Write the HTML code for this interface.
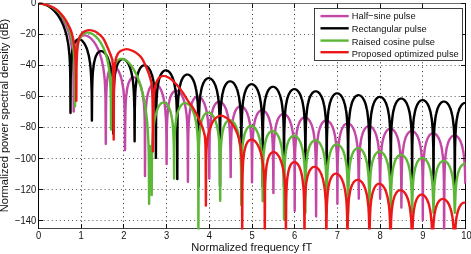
<!DOCTYPE html>
<html><head><meta charset="utf-8"><title>PSD</title>
<style>html,body{margin:0;padding:0;background:#fff}body{width:471px;height:254px;overflow:hidden;position:relative}</style></head>
<body>
<svg width="471" height="254" viewBox="0 0 471 254" style="position:absolute;left:0;top:0">
<defs><clipPath id="cp"><rect x="38.5" y="2.5" width="428.0" height="227.0"/></clipPath></defs>
<rect x="0" y="0" width="471" height="254" fill="#fff"/>
<g stroke="#1a1a1a" stroke-width="1" stroke-dasharray="1 3.4" stroke-dashoffset="2" fill="none"><line x1="81.5" y1="228.5" x2="81.5" y2="3.5"/><line x1="123.5" y1="228.5" x2="123.5" y2="3.5"/><line x1="166.5" y1="228.5" x2="166.5" y2="3.5"/><line x1="209.5" y1="228.5" x2="209.5" y2="3.5"/><line x1="252.5" y1="228.5" x2="252.5" y2="3.5"/><line x1="294.5" y1="228.5" x2="294.5" y2="3.5"/><line x1="337.5" y1="228.5" x2="337.5" y2="3.5"/><line x1="380.5" y1="228.5" x2="380.5" y2="3.5"/><line x1="422.5" y1="228.5" x2="422.5" y2="3.5"/></g>
<g stroke="#555" stroke-width="1" stroke-dasharray="1 3.07" stroke-dashoffset="-1" fill="none"><line x1="38.5" y1="220.5" x2="465.5" y2="220.5"/><line x1="38.5" y1="189.5" x2="465.5" y2="189.5"/><line x1="38.5" y1="158.5" x2="465.5" y2="158.5"/><line x1="38.5" y1="127.5" x2="465.5" y2="127.5"/><line x1="38.5" y1="96.5" x2="465.5" y2="96.5"/><line x1="38.5" y1="65.5" x2="465.5" y2="65.5"/><line x1="38.5" y1="34.5" x2="465.5" y2="34.5"/></g>
<g stroke-width="1" fill="none"><line x1="38.0" y1="3.5" x2="466.0" y2="3.5" stroke="#6a6a6a"/><line x1="38.0" y1="228.5" x2="466.0" y2="228.5" stroke="#444"/><line x1="38.5" y1="3.0" x2="38.5" y2="229.0" stroke="#000"/><line x1="465.5" y1="3.0" x2="465.5" y2="229.0" stroke="#000"/></g>
<g clip-path="url(#cp)"><g transform="scale(1,0.88)" fill="none" stroke-width="2.45" stroke-linejoin="round">
<polyline stroke="#c348a6" points="38.5,3.98 38.7,3.98 38.9,3.98 39.1,3.99 39.4,4.00 39.6,4.01 39.8,4.02 40.0,4.03 40.2,4.05 40.4,4.07 40.6,4.09 40.8,4.12 41.1,4.14 41.3,4.17 41.5,4.20 41.7,4.24 41.9,4.27 42.1,4.31 42.3,4.35 42.6,4.39 42.8,4.44 43.0,4.49 43.2,4.54 43.4,4.59 43.6,4.64 43.8,4.70 44.1,4.76 44.3,4.82 44.5,4.89 44.7,4.95 44.9,5.02 45.1,5.09 45.3,5.17 45.5,5.25 45.8,5.32 46.0,5.41 46.2,5.49 46.4,5.58 46.6,5.67 46.8,5.76 47.0,5.85 47.3,5.95 47.5,6.05 47.7,6.15 47.9,6.25 48.1,6.36 48.3,6.47 48.5,6.58 48.7,6.70 49.0,6.81 49.2,6.93 49.4,7.06 49.6,7.18 49.8,7.31 50.0,7.44 50.2,7.58 50.5,7.71 50.7,7.85 50.9,7.99 51.1,8.14 51.3,8.29 51.5,8.44 51.7,8.59 52.0,8.75 52.2,8.91 52.4,9.07 52.6,9.24 52.8,9.41 53.0,9.58 53.2,9.76 53.4,9.94 53.7,10.12 53.9,10.30 54.1,10.49 54.3,10.68 54.5,10.88 54.7,11.08 54.9,11.28 55.2,11.49 55.4,11.70 55.6,11.91 55.8,12.13 56.0,12.35 56.2,12.57 56.4,12.80 56.6,13.03 56.9,13.27 57.1,13.51 57.3,13.75 57.5,14.00 57.7,14.25 57.9,14.51 58.1,14.77 58.4,15.04 58.6,15.31 58.8,15.58 59.0,15.86 59.2,16.15 59.4,16.44 59.6,16.73 59.9,17.03 60.1,17.33 60.3,17.64 60.5,17.96 60.7,18.28 60.9,18.61 61.1,18.94 61.3,19.28 61.6,19.63 61.8,19.98 62.0,20.33 62.2,20.70 62.4,21.07 62.6,21.45 62.8,21.84 63.1,22.23 63.3,22.63 63.5,23.04 63.7,23.46 63.9,23.89 64.1,24.32 64.3,24.77 64.5,25.22 64.8,25.69 65.0,26.16 65.2,26.65 65.4,27.14 65.6,27.65 65.8,28.18 66.0,28.71 66.3,29.26 66.5,29.82 66.7,30.40 66.9,31.00 67.1,31.61 67.3,32.24 67.5,32.89 67.7,33.56 68.0,34.25 68.2,34.96 68.4,35.70 68.6,36.47 68.8,37.26 69.0,38.09 69.2,38.95 69.5,39.85 69.7,40.79 69.9,41.78 70.1,42.82 70.3,43.91 70.5,45.07 70.7,46.30 71.0,47.62 71.2,49.03 71.4,50.56 71.6,52.23 71.8,54.07 72.0,56.11 72.2,58.42 72.4,61.07 72.7,64.22 72.9,68.10 73.1,73.17 73.3,80.59 73.5,94.98 73.7,126.88 73.9,84.25 74.2,75.93 74.4,70.68 74.6,66.86 74.8,63.87 75.0,61.43 75.2,59.38 75.4,57.62 75.6,56.08 75.9,54.72 76.1,53.51 76.3,52.42 76.5,51.43 76.7,50.53 76.9,49.70 77.1,48.95 77.4,48.25 77.6,47.60 77.8,47.01 78.0,46.46 78.2,45.94 78.4,45.46 78.6,45.02 78.9,44.60 79.1,44.22 79.3,43.86 79.5,43.52 79.7,43.21 79.9,42.92 80.1,42.65 80.3,42.39 80.6,42.16 80.8,41.94 81.0,41.74 81.2,41.56 81.4,41.39 81.6,41.23 81.8,41.09 82.1,40.96 82.3,40.84 82.5,40.74 82.7,40.65 82.9,40.57 83.1,40.49 83.3,40.43 83.5,40.38 83.8,40.34 84.0,40.31 84.2,40.29 84.4,40.28 84.6,40.28 84.8,40.29 85.0,40.30 85.3,40.33 85.5,40.36 85.7,40.40 85.9,40.45 86.1,40.50 86.3,40.57 86.5,40.64 86.8,40.72 87.0,40.81 87.2,40.90 87.4,41.01 87.6,41.11 87.8,41.23 88.0,41.36 88.2,41.49 88.5,41.63 88.7,41.77 88.9,41.92 89.1,42.08 89.3,42.25 89.5,42.42 89.7,42.60 90.0,42.79 90.2,42.99 90.4,43.19 90.6,43.40 90.8,43.61 91.0,43.84 91.2,44.07 91.4,44.31 91.7,44.55 91.9,44.81 92.1,45.07 92.3,45.33 92.5,45.61 92.7,45.89 92.9,46.18 93.2,46.48 93.4,46.79 93.6,47.10 93.8,47.43 94.0,47.76 94.2,48.10 94.4,48.45 94.7,48.81 94.9,49.17 95.1,49.55 95.3,49.94 95.5,50.33 95.7,50.74 95.9,51.15 96.1,51.58 96.4,52.02 96.6,52.47 96.8,52.93 97.0,53.40 97.2,53.88 97.4,54.38 97.6,54.89 97.9,55.41 98.1,55.95 98.3,56.51 98.5,57.07 98.7,57.66 98.9,58.26 99.1,58.88 99.3,59.52 99.6,60.18 99.8,60.86 100.0,61.56 100.2,62.29 100.4,63.04 100.6,63.82 100.8,64.63 101.1,65.47 101.3,66.34 101.5,67.25 101.7,68.20 101.9,69.20 102.1,70.24 102.3,71.34 102.5,72.50 102.8,73.73 103.0,75.03 103.2,76.43 103.4,77.93 103.6,79.54 103.8,81.31 104.0,83.25 104.3,85.42 104.5,87.87 104.7,90.71 104.9,94.09 105.1,98.28 105.3,103.87 105.5,112.39 105.8,163.73 106.0,125.69 106.2,111.01 106.4,103.85 106.6,99.14 106.8,95.67 107.0,92.93 107.2,90.70 107.5,88.82 107.7,87.22 107.9,85.83 108.1,84.61 108.3,83.53 108.5,82.57 108.7,81.71 109.0,80.94 109.2,80.25 109.4,79.62 109.6,79.06 109.8,78.54 110.0,78.08 110.2,77.67 110.4,77.29 110.7,76.96 110.9,76.65 111.1,76.39 111.3,76.15 111.5,75.94 111.7,75.76 111.9,75.61 112.2,75.48 112.4,75.37 112.6,75.29 112.8,75.23 113.0,75.19 113.2,75.17 113.4,75.17 113.7,75.20 113.9,75.24 114.1,75.29 114.3,75.37 114.5,75.47 114.7,75.58 114.9,75.71 115.1,75.86 115.4,76.02 115.6,76.20 115.8,76.40 116.0,76.62 116.2,76.86 116.4,77.11 116.6,77.38 116.9,77.67 117.1,77.98 117.3,78.30 117.5,78.65 117.7,79.02 117.9,79.40 118.1,79.81 118.3,80.24 118.6,80.69 118.8,81.16 119.0,81.66 119.2,82.18 119.4,82.73 119.6,83.31 119.8,83.92 120.1,84.56 120.3,85.24 120.5,85.95 120.7,86.70 120.9,87.49 121.1,88.33 121.3,89.22 121.6,90.17 121.8,91.18 122.0,92.26 122.2,93.41 122.4,94.66 122.6,96.01 122.8,97.49 123.0,99.11 123.3,100.91 123.5,102.94 123.7,105.24 123.9,107.93 124.1,111.15 124.3,115.17 124.5,120.55 124.8,128.76 125.0,170.79 125.2,143.42 125.4,127.90 125.6,120.46 125.8,115.56 126.0,111.92 126.2,109.05 126.5,106.68 126.7,104.67 126.9,102.95 127.1,101.43 127.3,100.10 127.5,98.90 127.7,97.83 128.0,96.85 128.2,95.97 128.4,95.17 128.6,94.43 128.8,93.75 129.0,93.14 129.2,92.57 129.5,92.04 129.7,91.56 129.9,91.12 130.1,90.71 130.3,90.34 130.5,90.00 130.7,89.69 130.9,89.40 131.2,89.15 131.4,88.91 131.6,88.71 131.8,88.52 132.0,88.36 132.2,88.22 132.4,88.10 132.7,87.99 132.9,87.91 133.1,87.85 133.3,87.81 133.5,87.78 133.7,87.77 133.9,87.78 134.1,87.81 134.4,87.85 134.6,87.91 134.8,87.99 135.0,88.08 135.2,88.19 135.4,88.32 135.6,88.46 135.9,88.62 136.1,88.80 136.3,89.00 136.5,89.21 136.7,89.44 136.9,89.69 137.1,89.95 137.4,90.24 137.6,90.54 137.8,90.86 138.0,91.21 138.2,91.57 138.4,91.96 138.6,92.37 138.8,92.80 139.1,93.26 139.3,93.74 139.5,94.25 139.7,94.78 139.9,95.35 140.1,95.95 140.3,96.59 140.6,97.26 140.8,97.97 141.0,98.73 141.2,99.53 141.4,100.39 141.6,101.30 141.8,102.28 142.0,103.33 142.3,104.46 142.5,105.69 142.7,107.03 142.9,108.49 143.1,110.11 143.3,111.93 143.5,113.97 143.8,116.33 144.0,119.11 144.2,122.48 144.4,126.78 144.6,132.73 144.8,142.47 145.0,200.24 145.2,146.82 145.5,135.13 145.7,128.64 145.9,124.15 146.1,120.73 146.3,117.97 146.5,115.67 146.7,113.71 147.0,112.00 147.2,110.49 147.4,109.14 147.6,107.93 147.8,106.83 148.0,105.83 148.2,104.92 148.5,104.08 148.7,103.31 148.9,102.59 149.1,101.93 149.3,101.32 149.5,100.75 149.7,100.23 149.9,99.74 150.2,99.28 150.4,98.86 150.6,98.47 150.8,98.10 151.0,97.77 151.2,97.46 151.4,97.17 151.7,96.91 151.9,96.66 152.1,96.44 152.3,96.24 152.5,96.06 152.7,95.90 152.9,95.76 153.1,95.64 153.4,95.53 153.6,95.44 153.8,95.36 154.0,95.31 154.2,95.26 154.4,95.24 154.6,95.23 154.9,95.23 155.1,95.25 155.3,95.29 155.5,95.34 155.7,95.40 155.9,95.48 156.1,95.57 156.4,95.68 156.6,95.81 156.8,95.95 157.0,96.10 157.2,96.27 157.4,96.45 157.6,96.65 157.8,96.87 158.1,97.10 158.3,97.35 158.5,97.62 158.7,97.90 158.9,98.20 159.1,98.52 159.3,98.86 159.6,99.22 159.8,99.60 160.0,100.00 160.2,100.42 160.4,100.86 160.6,101.33 160.8,101.83 161.0,102.35 161.3,102.90 161.5,103.48 161.7,104.09 161.9,104.73 162.1,105.42 162.3,106.14 162.5,106.91 162.8,107.73 163.0,108.60 163.2,109.53 163.4,110.52 163.6,111.59 163.8,112.74 164.0,113.99 164.3,115.36 164.5,116.86 164.7,118.52 164.9,120.38 165.1,122.49 165.3,124.93 165.5,127.82 165.7,131.37 166.0,135.96 166.2,142.49 166.4,153.96 166.6,186.66 166.8,151.19 167.0,141.34 167.2,135.45 167.5,131.25 167.7,128.01 167.9,125.37 168.1,123.15 168.3,121.24 168.5,119.58 168.7,118.10 168.9,116.79 169.2,115.60 169.4,114.52 169.6,113.54 169.8,112.64 170.0,111.81 170.2,111.05 170.4,110.34 170.7,109.69 170.9,109.08 171.1,108.52 171.3,107.99 171.5,107.51 171.7,107.06 171.9,106.63 172.2,106.24 172.4,105.88 172.6,105.55 172.8,105.24 173.0,104.95 173.2,104.69 173.4,104.45 173.6,104.22 173.9,104.02 174.1,103.84 174.3,103.68 174.5,103.54 174.7,103.41 174.9,103.30 175.1,103.21 175.4,103.14 175.6,103.08 175.8,103.04 176.0,103.01 176.2,103.00 176.4,103.00 176.6,103.02 176.8,103.05 177.1,103.10 177.3,103.17 177.5,103.25 177.7,103.34 177.9,103.45 178.1,103.57 178.3,103.71 178.6,103.87 178.8,104.04 179.0,104.22 179.2,104.43 179.4,104.64 179.6,104.88 179.8,105.13 180.1,105.40 180.3,105.69 180.5,105.99 180.7,106.32 180.9,106.66 181.1,107.03 181.3,107.41 181.5,107.82 181.8,108.25 182.0,108.70 182.2,109.18 182.4,109.69 182.6,110.23 182.8,110.79 183.0,111.39 183.3,112.02 183.5,112.69 183.7,113.40 183.9,114.15 184.1,114.95 184.3,115.80 184.5,116.71 184.7,117.69 185.0,118.74 185.2,119.87 185.4,121.10 185.6,122.44 185.8,123.91 186.0,125.55 186.2,127.37 186.5,129.44 186.7,131.84 186.9,134.66 187.1,138.12 187.3,142.56 187.5,148.80 187.7,159.41 187.9,206.76 188.2,159.81 188.4,149.20 188.6,143.05 188.8,138.71 189.0,135.38 189.2,132.67 189.4,130.41 189.7,128.46 189.9,126.77 190.1,125.26 190.3,123.92 190.5,122.71 190.7,121.61 190.9,120.61 191.2,119.69 191.4,118.85 191.6,118.07 191.8,117.35 192.0,116.68 192.2,116.06 192.4,115.48 192.6,114.94 192.9,114.44 193.1,113.98 193.3,113.55 193.5,113.14 193.7,112.77 193.9,112.42 194.1,112.10 194.4,111.80 194.6,111.53 194.8,111.27 195.0,111.04 195.2,110.83 195.4,110.64 195.6,110.46 195.8,110.31 196.1,110.17 196.3,110.05 196.5,109.95 196.7,109.87 196.9,109.80 197.1,109.74 197.3,109.71 197.6,109.68 197.8,109.68 198.0,109.69 198.2,109.71 198.4,109.75 198.6,109.80 198.8,109.87 199.1,109.96 199.3,110.06 199.5,110.17 199.7,110.30 199.9,110.45 200.1,110.61 200.3,110.78 200.5,110.98 200.8,111.19 201.0,111.41 201.2,111.65 201.4,111.91 201.6,112.19 201.8,112.49 202.0,112.80 202.3,113.14 202.5,113.49 202.7,113.87 202.9,114.27 203.1,114.69 203.3,115.13 203.5,115.60 203.7,116.10 204.0,116.63 204.2,117.18 204.4,117.77 204.6,118.40 204.8,119.06 205.0,119.76 205.2,120.50 205.5,121.29 205.7,122.14 205.9,123.04 206.1,124.01 206.3,125.05 206.5,126.17 206.7,127.40 207.0,128.73 207.2,130.19 207.4,131.82 207.6,133.64 207.8,135.70 208.0,138.09 208.2,140.91 208.4,144.36 208.7,148.81 208.9,155.06 209.1,165.72 209.3,203.06 209.5,165.86 209.7,155.30 209.9,149.16 210.2,144.83 210.4,141.49 210.6,138.78 210.8,136.51 211.0,134.56 211.2,132.86 211.4,131.35 211.6,130.00 211.9,128.78 212.1,127.68 212.3,126.67 212.5,125.74 212.7,124.89 212.9,124.10 213.1,123.38 213.4,122.70 213.6,122.07 213.8,121.49 214.0,120.94 214.2,120.43 214.4,119.96 214.6,119.52 214.9,119.11 215.1,118.73 215.3,118.37 215.5,118.04 215.7,117.74 215.9,117.46 216.1,117.19 216.3,116.96 216.6,116.74 216.8,116.54 217.0,116.36 217.2,116.19 217.4,116.05 217.6,115.92 217.8,115.81 218.1,115.72 218.3,115.64 218.5,115.58 218.7,115.54 218.9,115.51 219.1,115.50 219.3,115.50 219.5,115.51 219.8,115.55 220.0,115.59 220.2,115.65 220.4,115.73 220.6,115.82 220.8,115.93 221.0,116.05 221.3,116.19 221.5,116.35 221.7,116.51 221.9,116.70 222.1,116.90 222.3,117.12 222.5,117.36 222.8,117.61 223.0,117.88 223.2,118.17 223.4,118.48 223.6,118.81 223.8,119.15 224.0,119.52 224.2,119.91 224.5,120.33 224.7,120.77 224.9,121.23 225.1,121.72 225.3,122.24 225.5,122.79 225.7,123.37 226.0,123.99 226.2,124.64 226.4,125.34 226.6,126.07 226.8,126.86 227.0,127.70 227.2,128.59 227.4,129.55 227.7,130.59 227.9,131.71 228.1,132.92 228.3,134.25 228.5,135.71 228.7,137.32 228.9,139.14 229.2,141.19 229.4,143.57 229.6,146.39 229.8,149.84 230.0,154.28 230.2,160.53 230.4,171.19 230.7,201.47 230.9,171.29 231.1,160.73 231.3,154.59 231.5,150.25 231.7,146.90 231.9,144.19 232.1,141.91 232.4,139.96 232.6,138.25 232.8,136.73 233.0,135.38 233.2,134.15 233.4,133.04 233.6,132.03 233.9,131.09 234.1,130.24 234.3,129.44 234.5,128.71 234.7,128.02 234.9,127.39 235.1,126.80 235.3,126.25 235.6,125.74 235.8,125.26 236.0,124.81 236.2,124.39 236.4,124.01 236.6,123.64 236.8,123.31 237.1,123.00 237.3,122.71 237.5,122.44 237.7,122.20 237.9,121.97 238.1,121.77 238.3,121.58 238.5,121.41 238.8,121.26 239.0,121.13 239.2,121.01 239.4,120.91 239.6,120.83 239.8,120.77 240.0,120.71 240.3,120.68 240.5,120.66 240.7,120.66 240.9,120.67 241.1,120.69 241.3,120.73 241.5,120.79 241.8,120.86 242.0,120.95 242.2,121.05 242.4,121.17 242.6,121.30 242.8,121.45 243.0,121.61 243.2,121.79 243.5,121.99 243.7,122.20 243.9,122.43 244.1,122.68 244.3,122.94 244.5,123.23 244.7,123.53 245.0,123.85 245.2,124.19 245.4,124.56 245.6,124.94 245.8,125.35 246.0,125.78 246.2,126.24 246.4,126.73 246.7,127.24 246.9,127.79 247.1,128.36 247.3,128.97 247.5,129.62 247.7,130.31 247.9,131.04 248.2,131.82 248.4,132.65 248.6,133.54 248.8,134.50 249.0,135.53 249.2,136.64 249.4,137.85 249.7,139.17 249.9,140.63 250.1,142.24 250.3,144.05 250.5,146.10 250.7,148.47 250.9,151.28 251.1,154.73 251.4,159.16 251.6,165.41 251.8,176.06 252.0,207.29 252.2,176.15 252.4,165.59 252.6,159.44 252.9,155.10 253.1,151.75 253.3,149.03 253.5,146.75 253.7,144.78 253.9,143.07 254.1,141.55 254.3,140.19 254.6,138.96 254.8,137.84 255.0,136.82 255.2,135.89 255.4,135.02 255.6,134.22 255.8,133.48 256.1,132.80 256.3,132.16 256.5,131.56 256.7,131.01 256.9,130.49 257.1,130.00 257.3,129.55 257.6,129.13 257.8,128.74 258.0,128.37 258.2,128.03 258.4,127.71 258.6,127.42 258.8,127.15 259.0,126.90 259.3,126.67 259.5,126.46 259.7,126.27 259.9,126.10 260.1,125.94 260.3,125.80 260.5,125.68 260.8,125.58 261.0,125.49 261.2,125.42 261.4,125.37 261.6,125.33 261.8,125.30 262.0,125.29 262.2,125.30 262.5,125.32 262.7,125.36 262.9,125.41 263.1,125.47 263.3,125.56 263.5,125.65 263.7,125.77 264.0,125.89 264.2,126.04 264.4,126.20 264.6,126.37 264.8,126.56 265.0,126.77 265.2,127.00 265.5,127.24 265.7,127.50 265.9,127.78 266.1,128.08 266.3,128.39 266.5,128.73 266.7,129.09 266.9,129.47 267.2,129.88 267.4,130.31 267.6,130.76 267.8,131.24 268.0,131.75 268.2,132.29 268.4,132.86 268.7,133.47 268.9,134.11 269.1,134.80 269.3,135.52 269.5,136.30 269.7,137.13 269.9,138.01 270.1,138.97 270.4,139.99 270.6,141.10 270.8,142.30 271.0,143.62 271.2,145.07 271.4,146.68 271.6,148.48 271.9,150.53 272.1,152.90 272.3,155.71 272.5,159.14 272.7,163.57 272.9,169.81 273.1,180.47 273.4,219.63 273.6,180.55 273.8,169.98 274.0,163.83 274.2,159.48 274.4,156.13 274.6,153.40 274.8,151.12 275.1,149.15 275.3,147.43 275.5,145.91 275.7,144.54 275.9,143.31 276.1,142.19 276.3,141.17 276.6,140.22 276.8,139.36 277.0,138.55 277.2,137.81 277.4,137.12 277.6,136.47 277.8,135.87 278.0,135.32 278.3,134.79 278.5,134.31 278.7,133.85 278.9,133.42 279.1,133.03 279.3,132.66 279.5,132.31 279.8,131.99 280.0,131.69 280.2,131.42 280.4,131.17 280.6,130.93 280.8,130.72 281.0,130.52 281.2,130.35 281.5,130.19 281.7,130.05 281.9,129.92 282.1,129.81 282.3,129.72 282.5,129.65 282.7,129.59 283.0,129.54 283.2,129.52 283.4,129.50 283.6,129.51 283.8,129.52 284.0,129.56 284.2,129.60 284.5,129.67 284.7,129.74 284.9,129.84 285.1,129.95 285.3,130.07 285.5,130.21 285.7,130.36 285.9,130.54 286.2,130.72 286.4,130.93 286.6,131.15 286.8,131.39 287.0,131.65 287.2,131.92 287.4,132.22 287.7,132.53 287.9,132.86 288.1,133.22 288.3,133.60 288.5,134.00 288.7,134.42 288.9,134.87 289.1,135.35 289.4,135.86 289.6,136.39 289.8,136.96 290.0,137.56 290.2,138.20 290.4,138.88 290.6,139.61 290.9,140.38 291.1,141.20 291.3,142.09 291.5,143.03 291.7,144.06 291.9,145.16 292.1,146.36 292.4,147.67 292.6,149.12 292.8,150.72 293.0,152.52 293.2,154.57 293.4,156.94 293.6,159.74 293.8,163.17 294.1,167.60 294.3,173.84 294.5,184.48 294.7,239.73 294.9,184.56 295.1,173.99 295.3,167.83 295.6,163.48 295.8,160.12 296.0,157.40 296.2,155.11 296.4,153.14 296.6,151.42 296.8,149.89 297.0,148.52 297.3,147.28 297.5,146.16 297.7,145.13 297.9,144.19 298.1,143.32 298.3,142.51 298.5,141.76 298.8,141.07 299.0,140.42 299.2,139.82 299.4,139.25 299.6,138.73 299.8,138.24 300.0,137.78 300.3,137.35 300.5,136.95 300.7,136.58 300.9,136.23 301.1,135.90 301.3,135.60 301.5,135.32 301.7,135.07 302.0,134.83 302.2,134.61 302.4,134.41 302.6,134.23 302.8,134.07 303.0,133.93 303.2,133.80 303.5,133.69 303.7,133.60 303.9,133.52 304.1,133.45 304.3,133.41 304.5,133.38 304.7,133.36 304.9,133.36 305.2,133.37 305.4,133.40 305.6,133.45 305.8,133.51 306.0,133.58 306.2,133.67 306.4,133.78 306.7,133.90 306.9,134.03 307.1,134.19 307.3,134.35 307.5,134.54 307.7,134.74 307.9,134.96 308.2,135.19 308.4,135.45 308.6,135.72 308.8,136.01 309.0,136.32 309.2,136.65 309.4,137.01 309.6,137.38 309.9,137.78 310.1,138.20 310.3,138.65 310.5,139.12 310.7,139.62 310.9,140.16 311.1,140.72 311.4,141.32 311.6,141.96 311.8,142.63 312.0,143.36 312.2,144.12 312.4,144.95 312.6,145.83 312.8,146.77 313.1,147.79 313.3,148.89 313.5,150.09 313.7,151.40 313.9,152.84 314.1,154.44 314.3,156.24 314.6,158.28 314.8,160.65 315.0,163.45 315.2,166.88 315.4,171.30 315.6,177.53 315.8,188.18 316.1,246.08 316.3,188.25 316.5,177.68 316.7,171.51 316.9,167.16 317.1,163.80 317.3,161.07 317.5,158.78 317.8,156.81 318.0,155.08 318.2,153.55 318.4,152.18 318.6,150.94 318.8,149.81 319.0,148.78 319.3,147.83 319.5,146.96 319.7,146.15 319.9,145.40 320.1,144.70 320.3,144.05 320.5,143.45 320.7,142.88 321.0,142.35 321.2,141.86 321.4,141.40 321.6,140.97 321.8,140.56 322.0,140.19 322.2,139.84 322.5,139.51 322.7,139.21 322.9,138.92 323.1,138.66 323.3,138.42 323.5,138.20 323.7,138.00 323.9,137.82 324.2,137.65 324.4,137.51 324.6,137.38 324.8,137.26 325.0,137.17 325.2,137.08 325.4,137.02 325.7,136.97 325.9,136.94 326.1,136.92 326.3,136.91 326.5,136.92 326.7,136.95 326.9,136.99 327.2,137.05 327.4,137.12 327.6,137.21 327.8,137.31 328.0,137.43 328.2,137.56 328.4,137.71 328.6,137.88 328.9,138.06 329.1,138.26 329.3,138.47 329.5,138.71 329.7,138.96 329.9,139.23 330.1,139.52 330.4,139.82 330.6,140.15 330.8,140.50 331.0,140.87 331.2,141.27 331.4,141.69 331.6,142.13 331.8,142.60 332.1,143.10 332.3,143.63 332.5,144.20 332.7,144.79 332.9,145.43 333.1,146.10 333.3,146.82 333.6,147.59 333.8,148.41 334.0,149.28 334.2,150.23 334.4,151.24 334.6,152.34 334.8,153.54 335.1,154.84 335.3,156.28 335.5,157.88 335.7,159.68 335.9,161.72 336.1,164.08 336.3,166.88 336.5,170.30 336.8,174.72 337.0,180.96 337.2,191.60 337.4,231.80 337.6,191.66 337.8,181.09 338.0,174.92 338.3,170.57 338.5,167.20 338.7,164.47 338.9,162.18 339.1,160.20 339.3,158.47 339.5,156.94 339.7,155.57 340.0,154.33 340.2,153.20 340.4,152.16 340.6,151.21 340.8,150.34 341.0,149.53 341.2,148.77 341.5,148.07 341.7,147.42 341.9,146.81 342.1,146.24 342.3,145.71 342.5,145.22 342.7,144.75 343.0,144.32 343.2,143.91 343.4,143.53 343.6,143.18 343.8,142.85 344.0,142.54 344.2,142.26 344.4,142.00 344.7,141.76 344.9,141.53 345.1,141.33 345.3,141.14 345.5,140.98 345.7,140.83 345.9,140.69 346.2,140.58 346.4,140.48 346.6,140.39 346.8,140.33 347.0,140.27 347.2,140.24 347.4,140.22 347.6,140.21 347.9,140.22 348.1,140.24 348.3,140.28 348.5,140.34 348.7,140.41 348.9,140.49 349.1,140.59 349.4,140.71 349.6,140.84 349.8,140.99 350.0,141.15 350.2,141.33 350.4,141.53 350.6,141.74 350.9,141.97 351.1,142.22 351.3,142.49 351.5,142.77 351.7,143.08 351.9,143.40 352.1,143.75 352.3,144.12 352.6,144.51 352.8,144.93 353.0,145.37 353.2,145.84 353.4,146.34 353.6,146.87 353.8,147.43 354.1,148.02 354.3,148.65 354.5,149.33 354.7,150.04 354.9,150.81 355.1,151.62 355.3,152.50 355.5,153.44 355.8,154.45 356.0,155.55 356.2,156.74 356.4,158.05 356.6,159.48 356.8,161.08 357.0,162.87 357.3,164.91 357.5,167.27 357.7,170.07 357.9,173.49 358.1,177.91 358.3,184.14 358.5,194.78 358.8,225.98 359.0,194.84 359.2,184.26 359.4,178.09 359.6,173.74 359.8,170.37 360.0,167.64 360.2,165.34 360.5,163.36 360.7,161.63 360.9,160.10 361.1,158.72 361.3,157.48 361.5,156.35 361.7,155.31 362.0,154.36 362.2,153.48 362.4,152.67 362.6,151.91 362.8,151.21 363.0,150.56 363.2,149.94 363.4,149.37 363.7,148.84 363.9,148.34 364.1,147.88 364.3,147.44 364.5,147.03 364.7,146.65 364.9,146.30 365.2,145.96 365.4,145.66 365.6,145.37 365.8,145.11 366.0,144.86 366.2,144.64 366.4,144.43 366.6,144.24 366.9,144.07 367.1,143.92 367.3,143.79 367.5,143.67 367.7,143.57 367.9,143.48 368.1,143.41 368.4,143.36 368.6,143.32 368.8,143.30 369.0,143.29 369.2,143.29 369.4,143.32 369.6,143.35 369.9,143.41 370.1,143.47 370.3,143.56 370.5,143.66 370.7,143.77 370.9,143.90 371.1,144.04 371.3,144.20 371.6,144.38 371.8,144.58 372.0,144.79 372.2,145.02 372.4,145.26 372.6,145.53 372.8,145.81 373.1,146.12 373.3,146.44 373.5,146.79 373.7,147.15 373.9,147.54 374.1,147.96 374.3,148.40 374.5,148.87 374.8,149.36 375.0,149.89 375.2,150.45 375.4,151.04 375.6,151.67 375.8,152.34 376.0,153.05 376.3,153.81 376.5,154.63 376.7,155.50 376.9,156.44 377.1,157.45 377.3,158.55 377.5,159.74 377.8,161.04 378.0,162.48 378.2,164.07 378.4,165.86 378.6,167.90 378.8,170.25 379.0,173.05 379.2,176.47 379.5,180.89 379.7,187.12 379.9,197.75 380.1,225.98 380.3,197.81 380.5,187.23 380.7,181.06 381.0,176.70 381.2,173.34 381.4,170.60 381.6,168.30 381.8,166.32 382.0,164.59 382.2,163.05 382.4,161.67 382.7,160.43 382.9,159.30 383.1,158.26 383.3,157.30 383.5,156.42 383.7,155.61 383.9,154.85 384.2,154.15 384.4,153.49 384.6,152.88 384.8,152.31 385.0,151.77 385.2,151.27 385.4,150.80 385.7,150.36 385.9,149.95 386.1,149.57 386.3,149.21 386.5,148.88 386.7,148.57 386.9,148.28 387.1,148.02 387.4,147.77 387.6,147.54 387.8,147.34 388.0,147.15 388.2,146.98 388.4,146.82 388.6,146.69 388.9,146.57 389.1,146.46 389.3,146.37 389.5,146.30 389.7,146.25 389.9,146.21 390.1,146.18 390.3,146.17 390.6,146.18 390.8,146.20 391.0,146.23 391.2,146.28 391.4,146.35 391.6,146.43 391.8,146.53 392.1,146.64 392.3,146.76 392.5,146.91 392.7,147.07 392.9,147.24 393.1,147.44 393.3,147.65 393.6,147.87 393.8,148.12 394.0,148.38 394.2,148.66 394.4,148.97 394.6,149.29 394.8,149.63 395.0,150.00 395.3,150.39 395.5,150.80 395.7,151.24 395.9,151.70 396.1,152.20 396.3,152.72 396.5,153.28 396.8,153.87 397.0,154.50 397.2,155.17 397.4,155.88 397.6,156.64 397.8,157.45 398.0,158.32 398.2,159.26 398.5,160.27 398.7,161.36 398.9,162.55 399.1,163.85 399.3,165.29 399.5,166.88 399.7,168.67 400.0,170.70 400.2,173.06 400.4,175.85 400.6,179.27 400.8,183.69 401.0,189.91 401.2,200.55 401.4,236.03 401.7,200.60 401.9,190.02 402.1,183.85 402.3,179.49 402.5,176.12 402.7,173.38 402.9,171.08 403.2,169.10 403.4,167.37 403.6,165.83 403.8,164.45 404.0,163.20 404.2,162.07 404.4,161.03 404.7,160.07 404.9,159.19 405.1,158.37 405.3,157.61 405.5,156.91 405.7,156.25 405.9,155.63 406.1,155.06 406.4,154.52 406.6,154.02 406.8,153.55 407.0,153.11 407.2,152.70 407.4,152.32 407.6,151.96 407.9,151.62 408.1,151.31 408.3,151.02 408.5,150.75 408.7,150.51 408.9,150.28 409.1,150.07 409.3,149.88 409.6,149.70 409.8,149.55 410.0,149.41 410.2,149.29 410.4,149.18 410.6,149.09 410.8,149.02 411.1,148.96 411.3,148.92 411.5,148.90 411.7,148.88 411.9,148.89 412.1,148.91 412.3,148.94 412.6,148.99 412.8,149.05 413.0,149.13 413.2,149.23 413.4,149.34 413.6,149.46 413.8,149.60 414.0,149.76 414.3,149.94 414.5,150.13 414.7,150.34 414.9,150.56 415.1,150.80 415.3,151.07 415.5,151.35 415.8,151.65 416.0,151.97 416.2,152.31 416.4,152.68 416.6,153.06 416.8,153.47 417.0,153.91 417.2,154.37 417.5,154.87 417.7,155.39 417.9,155.94 418.1,156.53 418.3,157.16 418.5,157.83 418.7,158.54 419.0,159.30 419.2,160.11 419.4,160.98 419.6,161.91 419.8,162.92 420.0,164.01 420.2,165.20 420.5,166.50 420.7,167.93 420.9,169.52 421.1,171.31 421.3,173.34 421.5,175.70 421.7,178.49 421.9,181.91 422.2,186.32 422.4,192.55 422.6,203.18 422.8,250.31 423.0,203.23 423.2,192.65 423.4,186.48 423.7,182.11 423.9,178.74 424.1,176.00 424.3,173.70 424.5,171.72 424.7,169.98 424.9,168.44 425.1,167.06 425.4,165.81 425.6,164.68 425.8,163.64 426.0,162.68 426.2,161.80 426.4,160.98 426.6,160.22 426.9,159.51 427.1,158.85 427.3,158.23 427.5,157.66 427.7,157.12 427.9,156.62 428.1,156.15 428.4,155.70 428.6,155.29 428.8,154.91 429.0,154.55 429.2,154.21 429.4,153.90 429.6,153.61 429.8,153.34 430.1,153.09 430.3,152.86 430.5,152.65 430.7,152.45 430.9,152.28 431.1,152.12 431.3,151.98 431.6,151.86 431.8,151.75 432.0,151.66 432.2,151.59 432.4,151.53 432.6,151.49 432.8,151.46 433.0,151.44 433.3,151.45 433.5,151.46 433.7,151.50 433.9,151.54 434.1,151.61 434.3,151.68 434.5,151.78 434.8,151.89 435.0,152.01 435.2,152.15 435.4,152.31 435.6,152.48 435.8,152.67 436.0,152.88 436.3,153.10 436.5,153.34 436.7,153.60 436.9,153.88 437.1,154.18 437.3,154.50 437.5,154.84 437.7,155.21 438.0,155.59 438.2,156.00 438.4,156.44 438.6,156.90 438.8,157.39 439.0,157.91 439.2,158.46 439.5,159.05 439.7,159.68 439.9,160.34 440.1,161.05 440.3,161.81 440.5,162.62 440.7,163.49 440.9,164.42 441.2,165.43 441.4,166.52 441.6,167.71 441.8,169.00 442.0,170.44 442.2,172.03 442.4,173.81 442.7,175.84 442.9,178.19 443.1,180.98 443.3,184.40 443.5,188.82 443.7,195.04 443.9,205.67 444.1,268.48 444.4,205.72 444.6,195.13 444.8,188.96 445.0,184.60 445.2,181.23 445.4,178.49 445.6,176.18 445.9,174.20 446.1,172.46 446.3,170.92 446.5,169.54 446.7,168.29 446.9,167.15 447.1,166.11 447.4,165.15 447.6,164.26 447.8,163.44 448.0,162.68 448.2,161.97 448.4,161.31 448.6,160.70 448.8,160.12 449.1,159.58 449.3,159.07 449.5,158.60 449.7,158.16 449.9,157.75 450.1,157.36 450.3,157.00 450.6,156.66 450.8,156.34 451.0,156.05 451.2,155.78 451.4,155.53 451.6,155.30 451.8,155.09 452.0,154.89 452.3,154.72 452.5,154.56 452.7,154.42 452.9,154.30 453.1,154.19 453.3,154.10 453.5,154.02 453.8,153.96 454.0,153.91 454.2,153.88 454.4,153.87 454.6,153.87 454.8,153.89 455.0,153.92 455.3,153.96 455.5,154.03 455.7,154.10 455.9,154.20 456.1,154.30 456.3,154.43 456.5,154.56 456.7,154.72 457.0,154.89 457.2,155.08 457.4,155.28 457.6,155.51 457.8,155.75 458.0,156.01 458.2,156.29 458.5,156.58 458.7,156.90 458.9,157.24 459.1,157.60 459.3,157.99 459.5,158.40 459.7,158.83 459.9,159.29 460.2,159.78 460.4,160.30 460.6,160.85 460.8,161.44 461.0,162.06 461.2,162.73 461.4,163.44 461.7,164.19 461.9,165.00 462.1,165.87 462.3,166.80 462.5,167.81 462.7,168.90 462.9,170.08 463.2,171.38 463.4,172.81 463.6,174.40 463.8,176.18 464.0,178.21 464.2,180.56 464.4,183.35 464.6,186.77 464.9,191.18 465.1,197.40 465.3,208.03 465.5,208.52"/>
<polyline stroke="#000000" points="38.5,3.98 38.7,3.98 38.9,3.98 39.1,3.99 39.4,4.00 39.6,4.01 39.8,4.03 40.0,4.05 40.2,4.07 40.4,4.09 40.6,4.12 40.8,4.15 41.1,4.18 41.3,4.22 41.5,4.26 41.7,4.30 41.9,4.34 42.1,4.39 42.3,4.44 42.6,4.50 42.8,4.55 43.0,4.61 43.2,4.67 43.4,4.74 43.6,4.81 43.8,4.88 44.1,4.95 44.3,5.03 44.5,5.11 44.7,5.19 44.9,5.28 45.1,5.37 45.3,5.46 45.5,5.56 45.8,5.66 46.0,5.76 46.2,5.86 46.4,5.97 46.6,6.08 46.8,6.20 47.0,6.32 47.3,6.44 47.5,6.56 47.7,6.69 47.9,6.82 48.1,6.95 48.3,7.09 48.5,7.23 48.7,7.38 49.0,7.53 49.2,7.68 49.4,7.83 49.6,7.99 49.8,8.15 50.0,8.32 50.2,8.49 50.5,8.66 50.7,8.84 50.9,9.02 51.1,9.20 51.3,9.39 51.5,9.58 51.7,9.78 52.0,9.98 52.2,10.18 52.4,10.39 52.6,10.60 52.8,10.82 53.0,11.04 53.2,11.26 53.4,11.49 53.7,11.72 53.9,11.96 54.1,12.20 54.3,12.45 54.5,12.70 54.7,12.96 54.9,13.22 55.2,13.49 55.4,13.76 55.6,14.03 55.8,14.32 56.0,14.60 56.2,14.89 56.4,15.19 56.6,15.49 56.9,15.80 57.1,16.12 57.3,16.44 57.5,16.77 57.7,17.10 57.9,17.44 58.1,17.78 58.4,18.14 58.6,18.49 58.8,18.86 59.0,19.23 59.2,19.61 59.4,20.00 59.6,20.40 59.9,20.80 60.1,21.22 60.3,21.64 60.5,22.07 60.7,22.51 60.9,22.96 61.1,23.41 61.3,23.88 61.6,24.36 61.8,24.85 62.0,25.35 62.2,25.87 62.4,26.39 62.6,26.93 62.8,27.48 63.1,28.05 63.3,28.63 63.5,29.23 63.7,29.84 63.9,30.47 64.1,31.12 64.3,31.79 64.5,32.48 64.8,33.19 65.0,33.92 65.2,34.68 65.4,35.47 65.6,36.29 65.8,37.13 66.0,38.01 66.3,38.93 66.5,39.89 66.7,40.90 66.9,41.95 67.1,43.06 67.3,44.24 67.5,45.48 67.7,46.81 68.0,48.23 68.2,49.75 68.4,51.41 68.6,53.23 68.8,55.24 69.0,57.49 69.2,60.06 69.5,63.07 69.7,66.70 69.9,71.32 70.1,77.76 70.3,88.60 70.5,128.47 70.7,89.06 71.0,78.68 71.2,72.70 71.4,68.54 71.6,65.36 71.8,62.82 72.0,60.71 72.2,58.92 72.4,57.37 72.7,56.02 72.9,54.82 73.1,53.76 73.3,52.81 73.5,51.95 73.7,51.17 73.9,50.46 74.2,49.82 74.4,49.24 74.6,48.70 74.8,48.22 75.0,47.77 75.2,47.37 75.4,47.00 75.6,46.66 75.9,46.36 76.1,46.08 76.3,45.83 76.5,45.61 76.7,45.41 76.9,45.23 77.1,45.08 77.4,44.94 77.6,44.83 77.8,44.74 78.0,44.66 78.2,44.60 78.4,44.56 78.6,44.54 78.9,44.53 79.1,44.54 79.3,44.57 79.5,44.61 79.7,44.66 79.9,44.73 80.1,44.81 80.3,44.91 80.6,45.03 80.8,45.16 81.0,45.30 81.2,45.45 81.4,45.62 81.6,45.81 81.8,46.01 82.1,46.22 82.3,46.45 82.5,46.69 82.7,46.95 82.9,47.22 83.1,47.51 83.3,47.81 83.5,48.13 83.8,48.47 84.0,48.82 84.2,49.19 84.4,49.57 84.6,49.98 84.8,50.40 85.0,50.85 85.3,51.31 85.5,51.80 85.7,52.30 85.9,52.83 86.1,53.39 86.3,53.97 86.5,54.58 86.8,55.22 87.0,55.89 87.2,56.60 87.4,57.34 87.6,58.12 87.8,58.95 88.0,59.82 88.2,60.74 88.5,61.72 88.7,62.77 88.9,63.89 89.1,65.09 89.3,66.39 89.5,67.79 89.7,69.33 90.0,71.03 90.2,72.93 90.4,75.07 90.6,77.52 90.8,80.42 91.0,83.95 91.2,88.46 91.4,94.79 91.7,105.53 91.9,137.11 92.1,105.78 92.3,95.30 92.5,89.23 92.7,84.97 92.9,81.70 93.2,79.06 93.4,76.85 93.6,74.97 93.8,73.33 94.0,71.89 94.2,70.60 94.4,69.45 94.7,68.41 94.9,67.46 95.1,66.60 95.3,65.81 95.5,65.09 95.7,64.42 95.9,63.81 96.1,63.24 96.4,62.72 96.6,62.23 96.8,61.78 97.0,61.37 97.2,60.99 97.4,60.64 97.6,60.32 97.9,60.02 98.1,59.75 98.3,59.50 98.5,59.27 98.7,59.07 98.9,58.89 99.1,58.72 99.3,58.58 99.6,58.45 99.8,58.35 100.0,58.26 100.2,58.19 100.4,58.13 100.6,58.09 100.8,58.07 101.1,58.06 101.3,58.07 101.5,58.09 101.7,58.13 101.9,58.18 102.1,58.25 102.3,58.33 102.5,58.43 102.8,58.54 103.0,58.67 103.2,58.81 103.4,58.97 103.6,59.14 103.8,59.33 104.0,59.53 104.3,59.75 104.5,59.98 104.7,60.23 104.9,60.50 105.1,60.78 105.3,61.08 105.5,61.40 105.8,61.73 106.0,62.09 106.2,62.46 106.4,62.86 106.6,63.27 106.8,63.71 107.0,64.17 107.2,64.65 107.5,65.16 107.7,65.69 107.9,66.26 108.1,66.85 108.3,67.47 108.5,68.13 108.7,68.83 109.0,69.57 109.2,70.34 109.4,71.17 109.6,72.05 109.8,72.99 110.0,73.99 110.2,75.07 110.4,76.23 110.7,77.48 110.9,78.85 111.1,80.35 111.3,82.01 111.5,83.86 111.7,85.96 111.9,88.38 112.2,91.23 112.4,94.72 112.6,99.20 112.8,105.48 113.0,116.18 113.2,152.10 113.4,116.36 113.7,105.84 113.9,99.73 114.1,95.43 114.3,92.13 114.5,89.45 114.7,87.21 114.9,85.29 115.1,83.61 115.4,82.14 115.6,80.82 115.8,79.63 116.0,78.55 116.2,77.57 116.4,76.67 116.6,75.85 116.9,75.09 117.1,74.39 117.3,73.74 117.5,73.14 117.7,72.59 117.9,72.07 118.1,71.59 118.3,71.14 118.6,70.73 118.8,70.35 119.0,69.99 119.2,69.66 119.4,69.36 119.6,69.08 119.8,68.83 120.1,68.59 120.3,68.38 120.5,68.18 120.7,68.01 120.9,67.86 121.1,67.72 121.3,67.60 121.6,67.50 121.8,67.41 122.0,67.35 122.2,67.29 122.4,67.26 122.6,67.24 122.8,67.23 123.0,67.24 123.3,67.27 123.5,67.31 123.7,67.36 123.9,67.43 124.1,67.52 124.3,67.62 124.5,67.73 124.8,67.86 125.0,68.01 125.2,68.17 125.4,68.35 125.6,68.54 125.8,68.75 126.0,68.97 126.2,69.21 126.5,69.47 126.7,69.74 126.9,70.04 127.1,70.35 127.3,70.68 127.5,71.02 127.7,71.39 128.0,71.78 128.2,72.20 128.4,72.63 128.6,73.09 128.8,73.58 129.0,74.09 129.2,74.63 129.5,75.20 129.7,75.80 129.9,76.43 130.1,77.11 130.3,77.82 130.5,78.58 130.7,79.38 130.9,80.24 131.2,81.15 131.4,82.14 131.6,83.19 131.8,84.33 132.0,85.56 132.2,86.90 132.4,88.38 132.7,90.02 132.9,91.85 133.1,93.93 133.3,96.32 133.5,99.16 133.7,102.62 133.9,107.08 134.1,113.35 134.4,124.03 134.6,160.74 134.8,124.16 135.0,113.62 135.2,107.50 135.4,103.17 135.6,99.85 135.9,97.15 136.1,94.89 136.3,92.95 136.5,91.26 136.7,89.76 136.9,88.42 137.1,87.21 137.4,86.12 137.6,85.12 137.8,84.20 138.0,83.36 138.2,82.58 138.4,81.86 138.6,81.20 138.8,80.58 139.1,80.00 139.3,79.47 139.5,78.97 139.7,78.51 139.9,78.08 140.1,77.68 140.3,77.30 140.6,76.96 140.8,76.64 141.0,76.34 141.2,76.06 141.4,75.81 141.6,75.58 141.8,75.37 142.0,75.18 142.3,75.01 142.5,74.86 142.7,74.72 142.9,74.60 143.1,74.50 143.3,74.41 143.5,74.35 143.8,74.29 144.0,74.26 144.2,74.24 144.4,74.23 144.6,74.24 144.8,74.26 145.0,74.30 145.2,74.36 145.5,74.43 145.7,74.51 145.9,74.61 146.1,74.72 146.3,74.85 146.5,75.00 146.7,75.16 147.0,75.34 147.2,75.53 147.4,75.74 147.6,75.96 147.8,76.21 148.0,76.46 148.2,76.74 148.5,77.04 148.7,77.35 148.9,77.69 149.1,78.04 149.3,78.42 149.5,78.82 149.7,79.24 149.9,79.68 150.2,80.15 150.4,80.65 150.6,81.17 150.8,81.73 151.0,82.32 151.2,82.94 151.4,83.60 151.7,84.30 151.9,85.04 152.1,85.83 152.3,86.67 152.5,87.58 152.7,88.54 152.9,89.58 153.1,90.71 153.4,91.93 153.6,93.26 153.8,94.72 154.0,96.35 154.2,98.16 154.4,100.23 154.6,102.61 154.9,105.43 155.1,108.89 155.3,113.33 155.5,119.58 155.7,130.25 155.9,179.43 156.1,130.36 156.4,119.81 156.6,113.67 156.8,109.33 157.0,106.00 157.2,103.29 157.4,101.01 157.6,99.06 157.8,97.36 158.1,95.85 158.3,94.49 158.5,93.28 158.7,92.17 158.9,91.16 159.1,90.23 159.3,89.37 159.6,88.58 159.8,87.85 160.0,87.18 160.2,86.54 160.4,85.96 160.6,85.41 160.8,84.90 161.0,84.43 161.3,83.98 161.5,83.57 161.7,83.19 161.9,82.83 162.1,82.50 162.3,82.19 162.5,81.90 162.8,81.64 163.0,81.40 163.2,81.18 163.4,80.97 163.6,80.79 163.8,80.63 164.0,80.48 164.3,80.35 164.5,80.24 164.7,80.14 164.9,80.06 165.1,80.00 165.3,79.95 165.5,79.92 165.7,79.90 166.0,79.90 166.2,79.92 166.4,79.94 166.6,79.99 166.8,80.05 167.0,80.12 167.2,80.21 167.5,80.31 167.7,80.43 167.9,80.57 168.1,80.72 168.3,80.89 168.5,81.07 168.7,81.27 168.9,81.48 169.2,81.71 169.4,81.96 169.6,82.23 169.8,82.52 170.0,82.82 170.2,83.15 170.4,83.49 170.7,83.86 170.9,84.25 171.1,84.66 171.3,85.09 171.5,85.55 171.7,86.04 171.9,86.56 172.2,87.10 172.4,87.68 172.6,88.29 172.8,88.94 173.0,89.63 173.2,90.37 173.4,91.15 173.6,91.98 173.9,92.87 174.1,93.83 174.3,94.86 174.5,95.98 174.7,97.19 174.9,98.51 175.1,99.96 175.4,101.58 175.6,103.39 175.8,105.44 176.0,107.82 176.2,110.63 176.4,114.07 176.6,118.51 176.8,124.76 177.1,135.41 177.3,203.59 177.5,135.51 177.7,124.94 177.9,118.79 178.1,114.45 178.3,111.11 178.6,108.39 178.8,106.11 179.0,104.15 179.2,102.43 179.4,100.91 179.6,99.55 179.8,98.33 180.1,97.21 180.3,96.19 180.5,95.25 180.7,94.39 180.9,93.59 181.1,92.85 181.3,92.17 181.5,91.53 181.8,90.93 182.0,90.38 182.2,89.86 182.4,89.38 182.6,88.93 182.8,88.51 183.0,88.11 183.3,87.75 183.5,87.41 183.7,87.09 183.9,86.80 184.1,86.53 184.3,86.28 184.5,86.05 184.7,85.84 185.0,85.65 185.2,85.48 185.4,85.32 185.6,85.18 185.8,85.06 186.0,84.96 186.2,84.87 186.5,84.80 186.7,84.75 186.9,84.71 187.1,84.68 187.3,84.67 187.5,84.68 187.7,84.70 187.9,84.74 188.2,84.79 188.4,84.86 188.6,84.94 188.8,85.04 189.0,85.15 189.2,85.28 189.4,85.42 189.7,85.58 189.9,85.75 190.1,85.94 190.3,86.15 190.5,86.38 190.7,86.62 190.9,86.88 191.2,87.16 191.4,87.46 191.6,87.77 191.8,88.11 192.0,88.47 192.2,88.85 192.4,89.26 192.6,89.68 192.9,90.14 193.1,90.62 193.3,91.13 193.5,91.67 193.7,92.24 193.9,92.84 194.1,93.49 194.4,94.17 194.6,94.90 194.8,95.67 195.0,96.50 195.2,97.38 195.4,98.34 195.6,99.36 195.8,100.47 196.1,101.67 196.3,102.99 196.5,104.44 196.7,106.04 196.9,107.85 197.1,109.89 197.3,112.26 197.6,115.07 197.8,118.51 198.0,122.94 198.2,129.17 198.4,139.82 198.6,212.05 198.8,139.91 199.1,129.34 199.3,123.18 199.5,118.83 199.7,115.48 199.9,112.76 200.1,110.47 200.3,108.50 200.5,106.78 200.8,105.26 201.0,103.89 201.2,102.66 201.4,101.53 201.6,100.51 201.8,99.57 202.0,98.70 202.3,97.89 202.5,97.15 202.7,96.46 202.9,95.81 203.1,95.21 203.3,94.65 203.5,94.13 203.7,93.64 204.0,93.18 204.2,92.75 204.4,92.35 204.6,91.98 204.8,91.64 205.0,91.31 205.2,91.02 205.5,90.74 205.7,90.48 205.9,90.25 206.1,90.03 206.3,89.84 206.5,89.66 206.7,89.50 207.0,89.36 207.2,89.23 207.4,89.12 207.6,89.03 207.8,88.95 208.0,88.89 208.2,88.84 208.4,88.81 208.7,88.80 208.9,88.80 209.1,88.82 209.3,88.85 209.5,88.89 209.7,88.95 209.9,89.03 210.2,89.12 210.4,89.23 210.6,89.35 210.8,89.49 211.0,89.64 211.2,89.81 211.4,90.00 211.6,90.20 211.9,90.42 212.1,90.66 212.3,90.91 212.5,91.19 212.7,91.48 212.9,91.79 213.1,92.12 213.4,92.48 213.6,92.85 213.8,93.25 214.0,93.67 214.2,94.12 214.4,94.60 214.6,95.10 214.9,95.64 215.1,96.20 215.3,96.80 215.5,97.44 215.7,98.12 215.9,98.84 216.1,99.61 216.3,100.43 216.6,101.31 216.8,102.26 217.0,103.28 217.2,104.38 217.4,105.58 217.6,106.89 217.8,108.33 218.1,109.94 218.3,111.73 218.5,113.78 218.7,116.14 218.9,118.94 219.1,122.37 219.3,126.80 219.5,133.03 219.8,143.68 220.0,212.05 220.2,143.75 220.4,133.18 220.6,127.02 220.8,122.66 221.0,119.30 221.3,116.58 221.5,114.28 221.7,112.31 221.9,110.59 222.1,109.06 222.3,107.69 222.5,106.45 222.8,105.32 223.0,104.29 223.2,103.34 223.4,102.47 223.6,101.66 223.8,100.91 224.0,100.21 224.2,99.57 224.5,98.96 224.7,98.39 224.9,97.87 225.1,97.37 225.3,96.91 225.5,96.48 225.7,96.08 226.0,95.70 226.2,95.35 226.4,95.02 226.6,94.72 226.8,94.44 227.0,94.18 227.2,93.94 227.4,93.72 227.7,93.52 227.9,93.34 228.1,93.17 228.3,93.02 228.5,92.89 228.7,92.78 228.9,92.68 229.2,92.60 229.4,92.54 229.6,92.49 229.8,92.45 230.0,92.43 230.2,92.43 230.4,92.44 230.7,92.47 230.9,92.51 231.1,92.57 231.3,92.64 231.5,92.73 231.7,92.83 231.9,92.95 232.1,93.08 232.4,93.23 232.6,93.39 232.8,93.58 233.0,93.77 233.2,93.99 233.4,94.22 233.6,94.47 233.9,94.74 234.1,95.03 234.3,95.34 234.5,95.67 234.7,96.02 234.9,96.39 235.1,96.78 235.3,97.20 235.6,97.65 235.8,98.12 236.0,98.62 236.2,99.15 236.4,99.71 236.6,100.31 236.8,100.94 237.1,101.61 237.3,102.33 237.5,103.10 237.7,103.92 237.9,104.79 238.1,105.73 238.3,106.75 238.5,107.85 238.8,109.04 239.0,110.35 239.2,111.79 239.4,113.39 239.6,115.18 239.8,117.22 240.0,119.58 240.3,122.38 240.5,125.81 240.7,130.23 240.9,136.46 241.1,147.10 241.3,212.05 241.5,147.16 241.8,136.59 242.0,130.42 242.2,126.07 242.4,122.70 242.6,119.97 242.8,117.67 243.0,115.70 243.2,113.97 243.5,112.44 243.7,111.06 243.9,109.82 244.1,108.69 244.3,107.66 244.5,106.71 244.7,105.83 245.0,105.02 245.2,104.26 245.4,103.56 245.6,102.91 245.8,102.30 246.0,101.73 246.2,101.20 246.4,100.70 246.7,100.24 246.9,99.80 247.1,99.39 247.3,99.01 247.5,98.66 247.7,98.33 247.9,98.02 248.2,97.74 248.4,97.47 248.6,97.23 248.8,97.01 249.0,96.80 249.2,96.62 249.4,96.45 249.7,96.30 249.9,96.16 250.1,96.05 250.3,95.95 250.5,95.86 250.7,95.79 250.9,95.74 251.1,95.70 251.4,95.68 251.6,95.67 251.8,95.68 252.0,95.70 252.2,95.74 252.4,95.80 252.6,95.86 252.9,95.95 253.1,96.05 253.3,96.16 253.5,96.29 253.7,96.44 253.9,96.60 254.1,96.78 254.3,96.97 254.6,97.19 254.8,97.42 255.0,97.66 255.2,97.93 255.4,98.21 255.6,98.52 255.8,98.84 256.1,99.19 256.3,99.56 256.5,99.95 256.7,100.37 256.9,100.81 257.1,101.27 257.3,101.77 257.6,102.30 257.8,102.86 258.0,103.45 258.2,104.08 258.4,104.75 258.6,105.47 258.8,106.23 259.0,107.04 259.3,107.92 259.5,108.86 259.7,109.87 259.9,110.96 260.1,112.16 260.3,113.46 260.5,114.90 260.8,116.49 261.0,118.28 261.2,120.32 261.4,122.68 261.6,125.47 261.8,128.89 262.0,133.31 262.2,139.54 262.5,150.18 262.7,212.05 262.9,150.23 263.1,139.66 263.3,133.49 263.5,129.13 263.7,125.76 264.0,123.03 264.2,120.73 264.4,118.75 264.6,117.02 264.8,115.48 265.0,114.10 265.2,112.86 265.5,111.72 265.7,110.69 265.9,109.73 266.1,108.85 266.3,108.04 266.5,107.28 266.7,106.58 266.9,105.92 267.2,105.31 267.4,104.74 267.6,104.20 267.8,103.70 268.0,103.23 268.2,102.80 268.4,102.39 268.7,102.00 268.9,101.65 269.1,101.31 269.3,101.00 269.5,100.72 269.7,100.45 269.9,100.20 270.1,99.98 270.4,99.77 270.6,99.58 270.8,99.41 271.0,99.26 271.2,99.12 271.4,99.00 271.6,98.90 271.9,98.81 272.1,98.74 272.3,98.68 272.5,98.64 272.7,98.62 272.9,98.61 273.1,98.61 273.4,98.63 273.6,98.67 273.8,98.72 274.0,98.78 274.2,98.86 274.4,98.96 274.6,99.07 274.8,99.20 275.1,99.34 275.3,99.50 275.5,99.68 275.7,99.87 275.9,100.08 276.1,100.31 276.3,100.55 276.6,100.81 276.8,101.10 277.0,101.40 277.2,101.72 277.4,102.06 277.6,102.43 277.8,102.82 278.0,103.23 278.3,103.67 278.5,104.14 278.7,104.63 278.9,105.15 279.1,105.71 279.3,106.30 279.5,106.93 279.8,107.60 280.0,108.31 280.2,109.07 280.4,109.88 280.6,110.75 280.8,111.69 281.0,112.70 281.2,113.79 281.5,114.98 281.7,116.28 281.9,117.71 282.1,119.31 282.3,121.09 282.5,123.13 282.7,125.48 283.0,128.27 283.2,131.70 283.4,136.11 283.6,142.34 283.8,152.97 284.0,212.05 284.2,153.02 284.5,142.44 284.7,136.27 284.9,131.91 285.1,128.54 285.3,125.80 285.5,123.50 285.7,121.52 285.9,119.79 286.2,118.25 286.4,116.87 286.6,115.62 286.8,114.48 287.0,113.44 287.2,112.49 287.4,111.60 287.7,110.79 287.9,110.03 288.1,109.32 288.3,108.66 288.5,108.05 288.7,107.47 288.9,106.94 289.1,106.43 289.4,105.96 289.6,105.52 289.8,105.11 290.0,104.73 290.2,104.37 290.4,104.03 290.6,103.72 290.9,103.43 291.1,103.16 291.3,102.91 291.5,102.68 291.7,102.47 291.9,102.28 292.1,102.11 292.4,101.95 292.6,101.81 292.8,101.69 293.0,101.58 293.2,101.50 293.4,101.42 293.6,101.36 293.8,101.32 294.1,101.29 294.3,101.28 294.5,101.28 294.7,101.30 294.9,101.33 295.1,101.38 295.3,101.45 295.6,101.52 295.8,101.62 296.0,101.73 296.2,101.85 296.4,101.99 296.6,102.15 296.8,102.32 297.0,102.51 297.3,102.72 297.5,102.95 297.7,103.19 297.9,103.45 298.1,103.73 298.3,104.03 298.5,104.35 298.8,104.69 299.0,105.05 299.2,105.44 299.4,105.85 299.6,106.29 299.8,106.75 300.0,107.24 300.3,107.76 300.5,108.32 300.7,108.91 300.9,109.53 301.1,110.20 301.3,110.91 301.5,111.67 301.7,112.48 302.0,113.34 302.2,114.28 302.4,115.29 302.6,116.38 302.8,117.56 303.0,118.86 303.2,120.29 303.5,121.88 303.7,123.67 303.9,125.70 304.1,128.05 304.3,130.84 304.5,134.26 304.7,138.68 304.9,144.90 305.2,155.53 305.4,212.05 305.6,155.58 305.8,145.00 306.0,138.82 306.2,134.46 306.4,131.09 306.7,128.35 306.9,126.05 307.1,124.06 307.3,122.33 307.5,120.78 307.7,119.40 307.9,118.15 308.2,117.01 308.4,115.97 308.6,115.01 308.8,114.13 309.0,113.31 309.2,112.55 309.4,111.84 309.6,111.18 309.9,110.56 310.1,109.99 310.3,109.45 310.5,108.94 310.7,108.47 310.9,108.03 311.1,107.61 311.4,107.23 311.6,106.86 311.8,106.53 312.0,106.21 312.2,105.92 312.4,105.65 312.6,105.40 312.8,105.17 313.1,104.96 313.3,104.76 313.5,104.59 313.7,104.43 313.9,104.29 314.1,104.16 314.3,104.06 314.6,103.96 314.8,103.89 315.0,103.83 315.2,103.78 315.4,103.75 315.6,103.74 315.8,103.74 316.1,103.76 316.3,103.79 316.5,103.83 316.7,103.90 316.9,103.97 317.1,104.06 317.3,104.17 317.5,104.30 317.8,104.43 318.0,104.59 318.2,104.76 318.4,104.95 318.6,105.15 318.8,105.38 319.0,105.62 319.3,105.88 319.5,106.15 319.7,106.45 319.9,106.77 320.1,107.11 320.3,107.47 320.5,107.86 320.7,108.26 321.0,108.70 321.2,109.16 321.4,109.65 321.6,110.17 321.8,110.72 322.0,111.31 322.2,111.93 322.5,112.60 322.7,113.30 322.9,114.06 323.1,114.87 323.3,115.73 323.5,116.67 323.7,117.67 323.9,118.76 324.2,119.95 324.4,121.24 324.6,122.67 324.8,124.26 325.0,126.05 325.2,128.08 325.4,130.43 325.7,133.21 325.9,136.63 326.1,141.04 326.3,147.26 326.5,157.89 326.7,212.05 326.9,157.94 327.2,147.35 327.4,141.18 327.6,136.81 327.8,133.44 328.0,130.70 328.2,128.39 328.4,126.41 328.6,124.67 328.9,123.13 329.1,121.74 329.3,120.49 329.5,119.35 329.7,118.31 329.9,117.35 330.1,116.46 330.4,115.64 330.6,114.88 330.8,114.17 331.0,113.50 331.2,112.89 331.4,112.31 331.6,111.77 331.8,111.26 332.1,110.79 332.3,110.34 332.5,109.93 332.7,109.54 332.9,109.17 333.1,108.83 333.3,108.52 333.6,108.23 333.8,107.95 334.0,107.70 334.2,107.47 334.4,107.25 334.6,107.06 334.8,106.88 335.1,106.72 335.3,106.58 335.5,106.45 335.7,106.34 335.9,106.25 336.1,106.17 336.3,106.11 336.5,106.06 336.8,106.03 337.0,106.02 337.2,106.02 337.4,106.03 337.6,106.06 337.8,106.10 338.0,106.16 338.3,106.24 338.5,106.33 338.7,106.44 338.9,106.56 339.1,106.69 339.3,106.85 339.5,107.02 339.7,107.20 340.0,107.41 340.2,107.63 340.4,107.87 340.6,108.12 340.8,108.40 341.0,108.70 341.2,109.01 341.5,109.35 341.7,109.71 341.9,110.09 342.1,110.50 342.3,110.93 342.5,111.39 342.7,111.88 343.0,112.40 343.2,112.95 343.4,113.53 343.6,114.16 343.8,114.82 344.0,115.53 344.2,116.28 344.4,117.09 344.7,117.95 344.9,118.88 345.1,119.89 345.3,120.97 345.5,122.16 345.7,123.45 345.9,124.88 346.2,126.47 346.4,128.25 346.6,130.28 346.8,132.63 347.0,135.41 347.2,138.83 347.4,143.24 347.6,149.46 347.9,160.09 348.1,212.05 348.3,160.13 348.5,149.54 348.7,143.37 348.9,139.00 349.1,135.63 349.4,132.88 349.6,130.57 349.8,128.59 350.0,126.85 350.2,125.30 350.4,123.92 350.6,122.67 350.9,121.52 351.1,120.48 351.3,119.52 351.5,118.63 351.7,117.81 351.9,117.04 352.1,116.33 352.3,115.67 352.6,115.05 352.8,114.47 353.0,113.92 353.2,113.41 353.4,112.94 353.6,112.49 353.8,112.08 354.1,111.69 354.3,111.32 354.5,110.98 354.7,110.66 354.9,110.37 355.1,110.09 355.3,109.84 355.5,109.61 355.8,109.39 356.0,109.19 356.2,109.02 356.4,108.85 356.6,108.71 356.8,108.58 357.0,108.47 357.3,108.38 357.5,108.30 357.7,108.23 357.9,108.19 358.1,108.15 358.3,108.14 358.5,108.13 358.8,108.15 359.0,108.17 359.2,108.22 359.4,108.28 359.6,108.35 359.8,108.44 360.0,108.54 360.2,108.66 360.5,108.80 360.7,108.95 360.9,109.12 361.1,109.30 361.3,109.51 361.5,109.73 361.7,109.96 362.0,110.22 362.2,110.49 362.4,110.79 362.6,111.10 362.8,111.44 363.0,111.80 363.2,112.18 363.4,112.59 363.7,113.02 363.9,113.47 364.1,113.96 364.3,114.48 364.5,115.03 364.7,115.61 364.9,116.23 365.2,116.89 365.4,117.60 365.6,118.35 365.8,119.16 366.0,120.02 366.2,120.95 366.4,121.95 366.6,123.04 366.9,124.22 367.1,125.51 367.3,126.94 367.5,128.53 367.7,130.31 367.9,132.33 368.1,134.68 368.4,137.47 368.6,140.88 368.8,145.29 369.0,151.51 369.2,162.13 369.4,212.05 369.6,162.17 369.9,151.59 370.1,145.41 370.3,141.04 370.5,137.66 370.7,134.92 370.9,132.61 371.1,130.62 371.3,128.88 371.6,127.34 371.8,125.95 372.0,124.69 372.2,123.55 372.4,122.50 372.6,121.54 372.8,120.65 373.1,119.83 373.3,119.06 373.5,118.35 373.7,117.68 373.9,117.06 374.1,116.48 374.3,115.94 374.5,115.43 374.8,114.95 375.0,114.50 375.2,114.09 375.4,113.69 375.6,113.33 375.8,112.99 376.0,112.67 376.3,112.37 376.5,112.09 376.7,111.84 376.9,111.60 377.1,111.39 377.3,111.19 377.5,111.01 377.8,110.85 378.0,110.70 378.2,110.57 378.4,110.46 378.6,110.36 378.8,110.28 379.0,110.22 379.2,110.17 379.5,110.14 379.7,110.12 379.9,110.11 380.1,110.13 380.3,110.15 380.5,110.19 380.7,110.25 381.0,110.32 381.2,110.41 381.4,110.51 381.6,110.63 381.8,110.77 382.0,110.92 382.2,111.08 382.4,111.27 382.7,111.47 382.9,111.69 383.1,111.92 383.3,112.18 383.5,112.45 383.7,112.75 383.9,113.06 384.2,113.40 384.4,113.75 384.6,114.13 384.8,114.54 385.0,114.97 385.2,115.42 385.4,115.91 385.7,116.42 385.9,116.97 386.1,117.55 386.3,118.17 386.5,118.83 386.7,119.54 386.9,120.29 387.1,121.09 387.4,121.96 387.6,122.88 387.8,123.88 388.0,124.97 388.2,126.15 388.4,127.44 388.6,128.87 388.9,130.45 389.1,132.23 389.3,134.26 389.5,136.61 389.7,139.39 389.9,142.80 390.1,147.21 390.3,153.43 390.6,164.05 390.8,212.05 391.0,164.09 391.2,153.50 391.4,147.32 391.6,142.95 391.8,139.57 392.1,136.83 392.3,134.52 392.5,132.53 392.7,130.79 392.9,129.24 393.1,127.85 393.3,126.60 393.6,125.45 393.8,124.41 394.0,123.44 394.2,122.55 394.4,121.72 394.6,120.96 394.8,120.24 395.0,119.58 395.3,118.95 395.5,118.37 395.7,117.83 395.9,117.32 396.1,116.84 396.3,116.39 396.5,115.97 396.8,115.58 397.0,115.21 397.2,114.87 397.4,114.55 397.6,114.25 397.8,113.97 398.0,113.72 398.2,113.48 398.5,113.26 398.7,113.06 398.9,112.88 399.1,112.72 399.3,112.57 399.5,112.44 399.7,112.33 400.0,112.23 400.2,112.15 400.4,112.08 400.6,112.03 400.8,112.00 401.0,111.98 401.2,111.97 401.4,111.98 401.7,112.01 401.9,112.05 402.1,112.11 402.3,112.18 402.5,112.26 402.7,112.37 402.9,112.48 403.2,112.62 403.4,112.77 403.6,112.93 403.8,113.12 404.0,113.31 404.2,113.53 404.4,113.77 404.7,114.02 404.9,114.29 405.1,114.59 405.3,114.90 405.5,115.23 405.7,115.59 405.9,115.97 406.1,116.37 406.4,116.80 406.6,117.26 406.8,117.74 407.0,118.25 407.2,118.80 407.4,119.38 407.6,120.00 407.9,120.66 408.1,121.36 408.3,122.11 408.5,122.92 408.7,123.78 408.9,124.70 409.1,125.70 409.3,126.79 409.6,127.97 409.8,129.26 410.0,130.68 410.2,132.27 410.4,134.05 410.6,136.07 410.8,138.42 411.1,141.20 411.3,144.61 411.5,149.02 411.7,155.23 411.9,165.86 412.1,212.05 412.3,165.89 412.6,155.30 412.8,149.12 413.0,144.75 413.2,141.37 413.4,138.63 413.6,136.32 413.8,134.33 414.0,132.58 414.3,131.03 414.5,129.65 414.7,128.39 414.9,127.24 415.1,126.19 415.3,125.23 415.5,124.34 415.8,123.51 416.0,122.74 416.2,122.03 416.4,121.36 416.6,120.74 416.8,120.15 417.0,119.61 417.2,119.10 417.5,118.62 417.7,118.17 417.9,117.75 418.1,117.35 418.3,116.98 418.5,116.64 418.7,116.32 419.0,116.02 419.2,115.74 419.4,115.49 419.6,115.25 419.8,115.03 420.0,114.83 420.2,114.65 420.5,114.48 420.7,114.33 420.9,114.20 421.1,114.09 421.3,113.99 421.5,113.91 421.7,113.84 421.9,113.79 422.2,113.75 422.4,113.73 422.6,113.73 422.8,113.74 423.0,113.76 423.2,113.80 423.4,113.86 423.7,113.93 423.9,114.01 424.1,114.11 424.3,114.23 424.5,114.36 424.7,114.51 424.9,114.67 425.1,114.86 425.4,115.06 425.6,115.27 425.8,115.51 426.0,115.76 426.2,116.03 426.4,116.32 426.6,116.63 426.9,116.97 427.1,117.32 427.3,117.70 427.5,118.10 427.7,118.53 427.9,118.98 428.1,119.47 428.4,119.98 428.6,120.53 428.8,121.11 429.0,121.72 429.2,122.38 429.4,123.08 429.6,123.83 429.8,124.64 430.1,125.50 430.3,126.42 430.5,127.42 430.7,128.50 430.9,129.68 431.1,130.97 431.3,132.40 431.6,133.98 431.8,135.76 432.0,137.78 432.2,140.13 432.4,142.91 432.6,146.32 432.8,150.72 433.0,156.94 433.3,167.56 433.5,212.05 433.7,167.60 433.9,157.00 434.1,150.82 434.3,146.45 434.5,143.07 434.8,140.32 435.0,138.01 435.2,136.02 435.4,134.28 435.6,132.73 435.8,131.34 436.0,130.08 436.3,128.93 436.5,127.88 436.7,126.92 436.9,126.03 437.1,125.20 437.3,124.43 437.5,123.71 437.7,123.04 438.0,122.42 438.2,121.84 438.4,121.29 438.6,120.78 438.8,120.30 439.0,119.85 439.2,119.42 439.5,119.03 439.7,118.66 439.9,118.32 440.1,117.99 440.3,117.69 440.5,117.42 440.7,117.16 440.9,116.92 441.2,116.70 441.4,116.50 441.6,116.31 441.8,116.15 442.0,116.00 442.2,115.87 442.4,115.75 442.7,115.65 442.9,115.57 443.1,115.50 443.3,115.45 443.5,115.41 443.7,115.39 443.9,115.39 444.1,115.39 444.4,115.42 444.6,115.46 444.8,115.51 445.0,115.58 445.2,115.66 445.4,115.76 445.6,115.88 445.9,116.01 446.1,116.16 446.3,116.32 446.5,116.50 446.7,116.70 446.9,116.92 447.1,117.15 447.4,117.40 447.6,117.67 447.8,117.96 448.0,118.27 448.2,118.61 448.4,118.96 448.6,119.34 448.8,119.74 449.1,120.17 449.3,120.62 449.5,121.10 449.7,121.62 449.9,122.16 450.1,122.74 450.3,123.36 450.6,124.01 450.8,124.71 451.0,125.46 451.2,126.26 451.4,127.12 451.6,128.05 451.8,129.05 452.0,130.13 452.3,131.31 452.5,132.60 452.7,134.02 452.9,135.60 453.1,137.38 453.3,139.40 453.5,141.74 453.8,144.52 454.0,147.94 454.2,152.34 454.4,158.55 454.6,169.18 454.8,212.05 455.0,169.21 455.3,158.62 455.5,152.43 455.7,148.06 455.9,144.68 456.1,141.93 456.3,139.62 456.5,137.63 456.7,135.88 457.0,134.33 457.2,132.94 457.4,131.68 457.6,130.54 457.8,129.49 458.0,128.52 458.2,127.63 458.5,126.80 458.7,126.03 458.9,125.31 459.1,124.64 459.3,124.02 459.5,123.43 459.7,122.88 459.9,122.37 460.2,121.89 460.4,121.44 460.6,121.02 460.8,120.62 461.0,120.25 461.2,119.90 461.4,119.58 461.7,119.28 461.9,119.00 462.1,118.74 462.3,118.50 462.5,118.28 462.7,118.08 462.9,117.90 463.2,117.73 463.4,117.58 463.6,117.45 463.8,117.33 464.0,117.23 464.2,117.15 464.4,117.08 464.6,117.03 464.9,116.99 465.1,116.97 465.3,116.96 465.5,116.97"/>
<polyline stroke="#5cb736" points="38.5,3.98 38.7,3.98 38.9,3.98 39.1,3.99 39.4,3.99 39.6,4.00 39.8,4.01 40.0,4.03 40.2,4.04 40.4,4.06 40.6,4.08 40.8,4.10 41.1,4.13 41.3,4.15 41.5,4.18 41.7,4.21 41.9,4.24 42.1,4.27 42.3,4.31 42.6,4.35 42.8,4.39 43.0,4.43 43.2,4.48 43.4,4.52 43.6,4.57 43.8,4.62 44.1,4.68 44.3,4.73 44.5,4.79 44.7,4.85 44.9,4.91 45.1,4.97 45.3,5.04 45.5,5.11 45.8,5.18 46.0,5.25 46.2,5.32 46.4,5.40 46.6,5.48 46.8,5.56 47.0,5.64 47.3,5.73 47.5,5.82 47.7,5.91 47.9,6.00 48.1,6.10 48.3,6.19 48.5,6.29 48.7,6.40 49.0,6.50 49.2,6.61 49.4,6.72 49.6,6.83 49.8,6.94 50.0,7.06 50.2,7.18 50.5,7.30 50.7,7.42 50.9,7.55 51.1,7.68 51.3,7.81 51.5,7.94 51.7,8.08 52.0,8.22 52.2,8.36 52.4,8.50 52.6,8.65 52.8,8.80 53.0,8.95 53.2,9.11 53.4,9.27 53.7,9.43 53.9,9.59 54.1,9.76 54.3,9.93 54.5,10.10 54.7,10.28 54.9,10.46 55.2,10.64 55.4,10.82 55.6,11.01 55.8,11.20 56.0,11.40 56.2,11.60 56.4,11.80 56.6,12.00 56.9,12.21 57.1,12.42 57.3,12.63 57.5,12.85 57.7,13.07 57.9,13.30 58.1,13.53 58.4,13.76 58.6,14.00 58.8,14.24 59.0,14.49 59.2,14.73 59.4,14.99 59.6,15.24 59.9,15.51 60.1,15.77 60.3,16.04 60.5,16.32 60.7,16.60 60.9,16.88 61.1,17.17 61.3,17.46 61.6,17.76 61.8,18.07 62.0,18.38 62.2,18.69 62.4,19.02 62.6,19.34 62.8,19.67 63.1,20.01 63.3,20.36 63.5,20.71 63.7,21.07 63.9,21.43 64.1,21.81 64.3,22.19 64.5,22.57 64.8,22.97 65.0,23.37 65.2,23.78 65.4,24.20 65.6,24.63 65.8,25.07 66.0,25.52 66.3,25.97 66.5,26.44 66.7,26.92 66.9,27.42 67.1,27.92 67.3,28.43 67.5,28.96 67.7,29.51 68.0,30.07 68.2,30.64 68.4,31.23 68.6,31.84 68.8,32.47 69.0,33.11 69.2,33.78 69.5,34.47 69.7,35.19 69.9,35.93 70.1,36.70 70.3,37.50 70.5,38.34 70.7,39.21 71.0,40.12 71.2,41.08 71.4,42.08 71.6,43.14 71.8,44.27 72.0,45.47 72.2,46.75 72.4,48.12 72.7,49.60 72.9,51.22 73.1,53.00 73.3,54.98 73.5,57.22 73.7,59.78 73.9,62.81 74.2,66.52 74.4,71.32 74.6,78.18 74.8,90.57 75.0,121.06 75.2,85.19 75.4,75.96 75.6,70.34 75.9,66.31 76.1,63.18 76.3,60.64 76.5,58.50 76.7,56.66 76.9,55.06 77.1,53.64 77.4,52.37 77.6,51.23 77.8,50.19 78.0,49.24 78.2,48.37 78.4,47.57 78.6,46.83 78.9,46.14 79.1,45.50 79.3,44.90 79.5,44.35 79.7,43.82 79.9,43.34 80.1,42.88 80.3,42.45 80.6,42.04 80.8,41.66 81.0,41.31 81.2,40.97 81.4,40.65 81.6,40.36 81.8,40.08 82.1,39.81 82.3,39.57 82.5,39.33 82.7,39.12 82.9,38.91 83.1,38.72 83.3,38.54 83.5,38.38 83.8,38.22 84.0,38.08 84.2,37.94 84.4,37.82 84.6,37.71 84.8,37.60 85.0,37.51 85.3,37.42 85.5,37.35 85.7,37.28 85.9,37.22 86.1,37.17 86.3,37.13 86.5,37.09 86.8,37.06 87.0,37.04 87.2,37.03 87.4,37.02 87.6,37.02 87.8,37.03 88.0,37.04 88.2,37.06 88.5,37.09 88.7,37.12 88.9,37.16 89.1,37.21 89.3,37.26 89.5,37.32 89.7,37.38 90.0,37.45 90.2,37.52 90.4,37.61 90.6,37.69 90.8,37.79 91.0,37.88 91.2,37.99 91.4,38.10 91.7,38.21 91.9,38.34 92.1,38.46 92.3,38.59 92.5,38.73 92.7,38.87 92.9,39.02 93.2,39.18 93.4,39.34 93.6,39.50 93.8,39.67 94.0,39.85 94.2,40.03 94.4,40.22 94.7,40.41 94.9,40.61 95.1,40.81 95.3,41.02 95.5,41.24 95.7,41.46 95.9,41.69 96.1,41.92 96.4,42.16 96.6,42.41 96.8,42.66 97.0,42.92 97.2,43.18 97.4,43.45 97.6,43.73 97.9,44.01 98.1,44.30 98.3,44.60 98.5,44.91 98.7,45.22 98.9,45.53 99.1,45.86 99.3,46.19 99.6,46.53 99.8,46.88 100.0,47.24 100.2,47.60 100.4,47.98 100.6,48.36 100.8,48.75 101.1,49.15 101.3,49.56 101.5,49.98 101.7,50.40 101.9,50.84 102.1,51.29 102.3,51.76 102.5,52.23 102.8,52.71 103.0,53.21 103.2,53.72 103.4,54.24 103.6,54.78 103.8,55.33 104.0,55.90 104.3,56.49 104.5,57.09 104.7,57.71 104.9,58.35 105.1,59.02 105.3,59.70 105.5,60.41 105.8,61.14 106.0,61.90 106.2,62.69 106.4,63.51 106.6,64.36 106.8,65.25 107.0,66.19 107.2,67.17 107.5,68.20 107.7,69.28 107.9,70.43 108.1,71.66 108.3,72.96 108.5,74.36 108.7,75.87 109.0,77.51 109.2,79.32 109.4,81.33 109.6,83.59 109.8,86.18 110.0,89.23 110.2,92.95 110.4,97.75 110.7,104.58 110.9,116.77 111.1,147.34 111.3,112.20 111.5,102.87 111.7,97.23 111.9,93.22 112.2,90.12 112.4,87.60 112.6,85.50 112.8,83.70 113.0,82.14 113.2,80.76 113.4,79.53 113.7,78.43 113.9,77.44 114.1,76.54 114.3,75.71 114.5,74.96 114.7,74.26 114.9,73.63 115.1,73.04 115.4,72.49 115.6,71.99 115.8,71.52 116.0,71.08 116.2,70.68 116.4,70.30 116.6,69.96 116.9,69.63 117.1,69.33 117.3,69.06 117.5,68.80 117.7,68.56 117.9,68.34 118.1,68.14 118.3,67.96 118.6,67.79 118.8,67.63 119.0,67.49 119.2,67.37 119.4,67.25 119.6,67.15 119.8,67.07 120.1,66.99 120.3,66.93 120.5,66.88 120.7,66.83 120.9,66.80 121.1,66.78 121.3,66.77 121.6,66.77 121.8,66.77 122.0,66.79 122.2,66.82 122.4,66.85 122.6,66.89 122.8,66.94 123.0,67.00 123.3,67.07 123.5,67.15 123.7,67.23 123.9,67.32 124.1,67.42 124.3,67.53 124.5,67.64 124.8,67.76 125.0,67.89 125.2,68.02 125.4,68.17 125.6,68.31 125.8,68.47 126.0,68.63 126.2,68.80 126.5,68.98 126.7,69.16 126.9,69.35 127.1,69.55 127.3,69.76 127.5,69.97 127.7,70.18 128.0,70.41 128.2,70.64 128.4,70.87 128.6,71.12 128.8,71.37 129.0,71.62 129.2,71.89 129.5,72.16 129.7,72.43 129.9,72.72 130.1,73.01 130.3,73.31 130.5,73.61 130.7,73.92 130.9,74.24 131.2,74.56 131.4,74.89 131.6,75.23 131.8,75.58 132.0,75.93 132.2,76.29 132.4,76.66 132.7,77.04 132.9,77.42 133.1,77.81 133.3,78.21 133.5,78.61 133.7,79.02 133.9,79.45 134.1,79.88 134.4,80.31 134.6,80.76 134.8,81.21 135.0,81.68 135.2,82.15 135.4,82.63 135.6,83.12 135.9,83.62 136.1,84.13 136.3,84.65 136.5,85.18 136.7,85.72 136.9,86.27 137.1,86.83 137.4,87.40 137.6,87.98 137.8,88.57 138.0,89.18 138.2,89.80 138.4,90.43 138.6,91.07 138.8,91.72 139.1,92.39 139.3,93.08 139.5,93.77 139.7,94.49 139.9,95.21 140.1,95.96 140.3,96.72 140.6,97.50 140.8,98.29 141.0,99.11 141.2,99.94 141.4,100.80 141.6,101.67 141.8,102.57 142.0,103.49 142.3,104.44 142.5,105.41 142.7,106.41 142.9,107.44 143.1,108.50 143.3,109.59 143.5,110.72 143.8,111.88 144.0,113.08 144.2,114.32 144.4,115.61 144.6,116.95 144.8,118.34 145.0,119.79 145.2,121.30 145.5,122.88 145.7,124.54 145.9,126.28 146.1,128.13 146.3,130.08 146.5,132.15 146.7,134.37 147.0,136.76 147.2,139.36 147.4,142.20 147.6,145.36 147.8,148.93 148.0,153.05 148.2,158.00 148.5,164.29 148.7,173.24 148.9,190.77 149.1,231.80 149.3,178.26 149.5,171.98 149.7,168.62 149.9,166.78 150.2,165.98 150.4,166.03 150.6,166.90 150.8,168.70 151.0,171.76 151.2,176.94 151.4,187.24 151.7,221.75 151.9,182.13 152.1,171.38 152.3,164.65 152.5,159.66 152.7,155.68 152.9,152.34 153.1,149.47 153.4,146.95 153.6,144.71 153.8,142.68 154.0,140.85 154.2,139.17 154.4,137.62 154.6,136.19 154.9,134.86 155.1,133.62 155.3,132.47 155.5,131.38 155.7,130.37 155.9,129.42 156.1,128.52 156.4,127.67 156.6,126.88 156.8,126.12 157.0,125.41 157.2,124.74 157.4,124.11 157.6,123.51 157.8,122.94 158.1,122.41 158.3,121.90 158.5,121.42 158.7,120.97 158.9,120.55 159.1,120.15 159.3,119.78 159.6,119.42 159.8,119.10 160.0,118.79 160.2,118.50 160.4,118.24 160.6,117.99 160.8,117.76 161.0,117.56 161.3,117.37 161.5,117.19 161.7,117.04 161.9,116.91 162.1,116.79 162.3,116.69 162.5,116.60 162.8,116.53 163.0,116.48 163.2,116.45 163.4,116.43 163.6,116.43 163.8,116.44 164.0,116.47 164.3,116.52 164.5,116.58 164.7,116.66 164.9,116.76 165.1,116.87 165.3,117.00 165.5,117.15 165.7,117.31 166.0,117.49 166.2,117.69 166.4,117.91 166.6,118.15 166.8,118.41 167.0,118.69 167.2,118.99 167.5,119.31 167.7,119.66 167.9,120.02 168.1,120.42 168.3,120.84 168.5,121.28 168.7,121.76 168.9,122.26 169.2,122.80 169.4,123.37 169.6,123.98 169.8,124.63 170.0,125.32 170.2,126.06 170.4,126.86 170.7,127.71 170.9,128.62 171.1,129.61 171.3,130.68 171.5,131.85 171.7,133.12 171.9,134.52 172.2,136.08 172.4,137.83 172.6,139.81 172.8,142.11 173.0,144.82 173.2,148.12 173.4,152.35 173.6,158.22 173.9,167.85 174.1,203.06 174.3,172.33 174.5,160.50 174.7,153.93 174.9,149.37 175.1,145.87 175.4,143.05 175.6,140.69 175.8,138.66 176.0,136.88 176.2,135.31 176.4,133.89 176.6,132.62 176.8,131.46 177.1,130.39 177.3,129.42 177.5,128.51 177.7,127.67 177.9,126.89 178.1,126.17 178.3,125.49 178.6,124.85 178.8,124.26 179.0,123.70 179.2,123.18 179.4,122.69 179.6,122.23 179.8,121.79 180.1,121.39 180.3,121.01 180.5,120.65 180.7,120.31 180.9,120.00 181.1,119.70 181.3,119.43 181.5,119.17 181.8,118.93 182.0,118.71 182.2,118.51 182.4,118.32 182.6,118.15 182.8,117.99 183.0,117.85 183.3,117.72 183.5,117.61 183.7,117.51 183.9,117.42 184.1,117.35 184.3,117.29 184.5,117.24 184.7,117.21 185.0,117.19 185.2,117.18 185.4,117.19 185.6,117.20 185.8,117.23 186.0,117.27 186.2,117.33 186.5,117.39 186.7,117.47 186.9,117.56 187.1,117.66 187.3,117.77 187.5,117.90 187.7,118.04 187.9,118.19 188.2,118.36 188.4,118.53 188.6,118.72 188.8,118.93 189.0,119.14 189.2,119.38 189.4,119.62 189.7,119.88 189.9,120.15 190.1,120.44 190.3,120.75 190.5,121.07 190.7,121.40 190.9,121.76 191.2,122.13 191.4,122.51 191.6,122.92 191.8,123.35 192.0,123.80 192.2,124.27 192.4,124.76 192.6,125.28 192.9,125.82 193.1,126.39 193.3,126.99 193.5,127.62 193.7,128.28 193.9,128.98 194.1,129.71 194.4,130.49 194.6,131.32 194.8,132.19 195.0,133.12 195.2,134.11 195.4,135.17 195.6,136.32 195.8,137.55 196.1,138.89 196.3,140.35 196.5,141.97 196.7,143.76 196.9,145.79 197.1,148.11 197.3,150.82 197.6,154.09 197.8,158.21 198.0,163.81 198.2,172.61 198.4,268.48 198.6,182.48 198.8,168.91 199.1,161.91 199.3,157.19 199.5,153.63 199.7,150.79 199.9,148.43 200.1,146.43 200.3,144.69 200.5,143.16 200.8,141.80 201.0,140.57 201.2,139.47 201.4,138.46 201.6,137.54 201.8,136.70 202.0,135.93 202.3,135.21 202.5,134.55 202.7,133.94 202.9,133.37 203.1,132.84 203.3,132.35 203.5,131.90 203.7,131.47 204.0,131.08 204.2,130.72 204.4,130.38 204.6,130.07 204.8,129.78 205.0,129.52 205.2,129.28 205.5,129.06 205.7,128.86 205.9,128.68 206.1,128.51 206.3,128.37 206.5,128.24 206.7,128.14 207.0,128.04 207.2,127.97 207.4,127.91 207.6,127.86 207.8,127.83 208.0,127.82 208.2,127.82 208.4,127.84 208.7,127.87 208.9,127.91 209.1,127.97 209.3,128.05 209.5,128.14 209.7,128.24 209.9,128.36 210.2,128.49 210.4,128.64 210.6,128.80 210.8,128.98 211.0,129.17 211.2,129.38 211.4,129.60 211.6,129.84 211.9,130.09 212.1,130.36 212.3,130.65 212.5,130.96 212.7,131.28 212.9,131.62 213.1,131.99 213.4,132.37 213.6,132.77 213.8,133.19 214.0,133.64 214.2,134.11 214.4,134.61 214.6,135.13 214.9,135.68 215.1,136.26 215.3,136.87 215.5,137.51 215.7,138.19 215.9,138.91 216.1,139.67 216.3,140.48 216.6,141.34 216.8,142.26 217.0,143.24 217.2,144.29 217.4,145.42 217.6,146.65 217.8,147.98 218.1,149.44 218.3,151.06 218.5,152.86 218.7,154.89 218.9,157.22 219.1,159.96 219.3,163.28 219.5,167.49 219.8,173.25 220.0,182.48 220.2,228.27 220.4,189.55 220.6,176.99 220.8,170.25 221.0,165.64 221.3,162.15 221.5,159.35 221.7,157.02 221.9,155.03 222.1,153.30 222.3,151.78 222.5,150.43 222.8,149.21 223.0,148.10 223.2,147.10 223.4,146.18 223.6,145.34 223.8,144.56 224.0,143.85 224.2,143.19 224.5,142.57 224.7,142.00 224.9,141.48 225.1,140.99 225.3,140.53 225.5,140.11 225.7,139.72 226.0,139.36 226.2,139.02 226.4,138.71 226.6,138.43 226.8,138.16 227.0,137.92 227.2,137.71 227.4,137.51 227.7,137.33 227.9,137.17 228.1,137.03 228.3,136.91 228.5,136.81 228.7,136.72 228.9,136.65 229.2,136.60 229.4,136.56 229.6,136.54 229.8,136.53 230.0,136.54 230.2,136.57 230.4,136.61 230.7,136.67 230.9,136.74 231.1,136.83 231.3,136.93 231.5,137.05 231.7,137.18 231.9,137.33 232.1,137.50 232.4,137.68 232.6,137.88 232.8,138.09 233.0,138.32 233.2,138.57 233.4,138.83 233.6,139.12 233.9,139.42 234.1,139.74 234.3,140.08 234.5,140.44 234.7,140.82 234.9,141.23 235.1,141.66 235.3,142.11 235.6,142.59 235.8,143.09 236.0,143.63 236.2,144.19 236.4,144.79 236.6,145.42 236.8,146.09 237.1,146.79 237.3,147.55 237.5,148.35 237.7,149.20 237.9,150.11 238.1,151.09 238.3,152.14 238.5,153.28 238.8,154.51 239.0,155.86 239.2,157.34 239.4,158.98 239.6,160.82 239.8,162.90 240.0,165.31 240.3,168.17 240.5,171.67 240.7,176.19 240.9,182.58 241.1,193.65 241.3,233.21 241.5,192.26 241.8,182.08 242.0,176.07 242.2,171.81 242.4,168.52 242.6,165.84 242.8,163.60 243.0,161.67 243.2,159.98 243.5,158.49 243.7,157.16 243.9,155.95 244.1,154.86 244.3,153.86 244.5,152.95 244.7,152.11 245.0,151.33 245.2,150.61 245.4,149.95 245.6,149.33 245.8,148.75 246.0,148.22 246.2,147.72 246.4,147.26 246.7,146.83 246.9,146.42 247.1,146.05 247.3,145.71 247.5,145.38 247.7,145.09 247.9,144.81 248.2,144.56 248.4,144.33 248.6,144.12 248.8,143.93 249.0,143.76 249.2,143.61 249.4,143.47 249.7,143.35 249.9,143.25 250.1,143.17 250.3,143.10 250.5,143.05 250.7,143.01 250.9,142.99 251.1,142.99 251.4,143.00 251.6,143.02 251.8,143.06 252.0,143.12 252.2,143.19 252.4,143.27 252.6,143.38 252.9,143.49 253.1,143.62 253.3,143.77 253.5,143.93 253.7,144.11 253.9,144.30 254.1,144.52 254.3,144.74 254.6,144.99 254.8,145.25 255.0,145.53 255.2,145.83 255.4,146.14 255.6,146.48 255.8,146.84 256.1,147.22 256.3,147.62 256.5,148.04 256.7,148.49 256.9,148.96 257.1,149.47 257.3,149.99 257.6,150.55 257.8,151.15 258.0,151.77 258.2,152.44 258.4,153.14 258.6,153.89 258.8,154.69 259.0,155.54 259.3,156.44 259.5,157.42 259.7,158.47 259.9,159.60 260.1,160.83 260.3,162.17 260.5,163.65 260.8,165.29 261.0,167.12 261.2,169.21 261.4,171.63 261.6,174.49 261.8,178.00 262.0,182.55 262.2,189.00 262.5,200.27 262.7,228.80 262.9,198.11 263.1,188.10 263.3,182.15 263.5,177.91 263.7,174.63 264.0,171.96 264.2,169.72 264.4,167.79 264.6,166.11 264.8,164.61 265.0,163.27 265.2,162.07 265.5,160.97 265.7,159.97 265.9,159.05 266.1,158.21 266.3,157.43 266.5,156.70 266.7,156.03 266.9,155.41 267.2,154.83 267.4,154.29 267.6,153.78 267.8,153.32 268.0,152.88 268.2,152.47 268.4,152.09 268.7,151.74 268.9,151.42 269.1,151.11 269.3,150.83 269.5,150.58 269.7,150.34 269.9,150.13 270.1,149.93 270.4,149.75 270.6,149.59 270.8,149.45 271.0,149.33 271.2,149.22 271.4,149.13 271.6,149.06 271.9,149.00 272.1,148.96 272.3,148.93 272.5,148.92 272.7,148.92 272.9,148.94 273.1,148.98 273.4,149.03 273.6,149.09 273.8,149.17 274.0,149.27 274.2,149.38 274.4,149.50 274.6,149.64 274.8,149.80 275.1,149.97 275.3,150.16 275.5,150.36 275.7,150.59 275.9,150.82 276.1,151.08 276.3,151.35 276.6,151.65 276.8,151.96 277.0,152.29 277.2,152.64 277.4,153.01 277.6,153.40 277.8,153.82 278.0,154.26 278.3,154.73 278.5,155.22 278.7,155.75 278.9,156.30 279.1,156.88 279.3,157.50 279.5,158.16 279.8,158.85 280.0,159.59 280.2,160.38 280.4,161.22 280.6,162.12 280.8,163.09 281.0,164.12 281.2,165.24 281.5,166.46 281.7,167.79 281.9,169.25 282.1,170.87 282.3,172.69 282.5,174.75 282.7,177.14 283.0,179.96 283.2,183.41 283.4,187.85 283.6,194.11 283.8,204.79 284.0,249.08 284.2,204.83 284.5,194.29 284.7,188.16 284.9,183.82 285.1,180.48 285.3,177.78 285.5,175.50 285.7,173.55 285.9,171.84 286.2,170.33 286.4,168.98 286.6,167.76 286.8,166.65 287.0,165.64 287.2,164.71 287.4,163.85 287.7,163.06 287.9,162.33 288.1,161.65 288.3,161.02 288.5,160.43 288.7,159.89 288.9,159.37 289.1,158.90 289.4,158.46 289.6,158.04 289.8,157.66 290.0,157.30 290.2,156.97 290.4,156.66 290.6,156.37 290.9,156.11 291.1,155.87 291.3,155.65 291.5,155.44 291.7,155.26 291.9,155.09 292.1,154.95 292.4,154.82 292.6,154.71 292.8,154.61 293.0,154.53 293.2,154.47 293.4,154.42 293.6,154.39 293.8,154.37 294.1,154.37 294.3,154.39 294.5,154.41 294.7,154.46 294.9,154.52 295.1,154.59 295.3,154.68 295.6,154.79 295.8,154.91 296.0,155.04 296.2,155.19 296.4,155.36 296.6,155.54 296.8,155.74 297.0,155.96 297.3,156.19 297.5,156.44 297.7,156.71 297.9,157.00 298.1,157.30 298.3,157.63 298.5,157.98 298.8,158.34 299.0,158.73 299.2,159.14 299.4,159.58 299.6,160.04 299.8,160.53 300.0,161.05 300.3,161.60 300.5,162.18 300.7,162.79 300.9,163.44 301.1,164.13 301.3,164.87 301.5,165.65 301.7,166.49 302.0,167.38 302.2,168.34 302.4,169.37 302.6,170.49 302.8,171.70 303.0,173.02 303.2,174.48 303.5,176.10 303.7,177.91 303.9,179.96 304.1,182.34 304.3,185.15 304.5,188.59 304.7,193.03 304.9,199.27 305.2,209.90 305.4,242.03 305.6,210.10 305.8,199.52 306.0,193.36 306.2,189.02 306.4,185.67 306.7,182.95 306.9,180.67 307.1,178.71 307.3,177.00 307.5,175.48 307.7,174.13 307.9,172.90 308.2,171.79 308.4,170.77 308.6,169.84 308.8,168.98 309.0,168.18 309.2,167.45 309.4,166.76 309.6,166.13 309.9,165.53 310.1,164.98 310.3,164.47 310.5,163.99 310.7,163.54 310.9,163.12 311.1,162.73 311.4,162.37 311.6,162.03 311.8,161.72 312.0,161.43 312.2,161.16 312.4,160.91 312.6,160.69 312.8,160.48 313.1,160.29 313.3,160.13 313.5,159.97 313.7,159.84 313.9,159.72 314.1,159.62 314.3,159.54 314.6,159.47 314.8,159.42 315.0,159.38 315.2,159.36 315.4,159.36 315.6,159.37 315.8,159.39 316.1,159.43 316.3,159.49 316.5,159.56 316.7,159.65 316.9,159.75 317.1,159.86 317.3,159.99 317.5,160.14 317.8,160.30 318.0,160.48 318.2,160.68 318.4,160.89 318.6,161.12 318.8,161.37 319.0,161.63 319.3,161.91 319.5,162.22 319.7,162.54 319.9,162.88 320.1,163.24 320.3,163.63 320.5,164.04 320.7,164.47 321.0,164.93 321.2,165.41 321.4,165.92 321.6,166.47 321.8,167.04 322.0,167.65 322.2,168.30 322.5,168.99 322.7,169.72 322.9,170.50 323.1,171.33 323.3,172.22 323.5,173.18 323.7,174.21 323.9,175.32 324.2,176.53 324.4,177.85 324.6,179.30 324.8,180.91 325.0,182.72 325.2,184.77 325.4,187.15 325.7,189.96 325.9,193.40 326.1,197.83 326.3,204.08 326.5,214.73 326.7,242.03 326.9,214.82 327.2,204.26 327.4,198.11 327.6,193.77 327.8,190.42 328.0,187.70 328.2,185.41 328.4,183.45 328.6,181.74 328.9,180.22 329.1,178.86 329.3,177.63 329.5,176.51 329.7,175.49 329.9,174.55 330.1,173.69 330.4,172.89 330.6,172.15 330.8,171.46 331.0,170.82 331.2,170.23 331.4,169.67 331.6,169.15 331.8,168.67 332.1,168.22 332.3,167.80 332.5,167.41 332.7,167.04 332.9,166.70 333.1,166.38 333.3,166.09 333.6,165.82 333.8,165.57 334.0,165.34 334.2,165.13 334.4,164.94 334.6,164.76 334.8,164.61 335.1,164.47 335.3,164.35 335.5,164.25 335.7,164.16 335.9,164.09 336.1,164.03 336.3,164.00 336.5,163.97 336.8,163.96 337.0,163.97 337.2,163.99 337.4,164.03 337.6,164.08 337.8,164.15 338.0,164.23 338.3,164.33 338.5,164.44 338.7,164.57 338.9,164.71 339.1,164.87 339.3,165.04 339.5,165.24 339.7,165.45 340.0,165.67 340.2,165.91 340.4,166.18 340.6,166.45 340.8,166.75 341.0,167.07 341.2,167.41 341.5,167.77 341.7,168.15 341.9,168.56 342.1,168.99 342.3,169.44 342.5,169.92 342.7,170.43 343.0,170.97 343.2,171.54 343.4,172.15 343.6,172.79 343.8,173.48 344.0,174.21 344.2,174.98 344.4,175.81 344.7,176.70 344.9,177.65 345.1,178.68 345.3,179.79 345.5,180.99 345.7,182.31 345.9,183.76 346.2,185.37 346.4,187.17 346.6,189.22 346.8,191.59 347.0,194.40 347.2,197.84 347.4,202.27 347.6,208.51 347.9,219.16 348.1,242.03 348.3,219.24 348.5,208.68 348.7,202.52 348.9,198.18 349.1,194.82 349.4,192.10 349.6,189.82 349.8,187.85 350.0,186.13 350.2,184.61 350.4,183.25 350.6,182.01 350.9,180.89 351.1,179.87 351.3,178.93 351.5,178.06 351.7,177.26 351.9,176.52 352.1,175.83 352.3,175.19 352.6,174.59 352.8,174.03 353.0,173.51 353.2,173.02 353.4,172.56 353.6,172.14 353.8,171.74 354.1,171.38 354.3,171.03 354.5,170.71 354.7,170.42 354.9,170.14 355.1,169.89 355.3,169.66 355.5,169.44 355.8,169.25 356.0,169.07 356.2,168.91 356.4,168.77 356.6,168.65 356.8,168.54 357.0,168.45 357.3,168.38 357.5,168.32 357.7,168.28 357.9,168.25 358.1,168.24 358.3,168.24 358.5,168.26 358.8,168.30 359.0,168.34 359.2,168.41 359.4,168.49 359.6,168.58 359.8,168.69 360.0,168.82 360.2,168.96 360.5,169.11 360.7,169.29 360.9,169.48 361.1,169.68 361.3,169.90 361.5,170.14 361.7,170.40 362.0,170.68 362.2,170.97 362.4,171.29 362.6,171.63 362.8,171.98 363.0,172.36 363.2,172.76 363.4,173.19 363.7,173.64 363.9,174.12 364.1,174.63 364.3,175.16 364.5,175.73 364.7,176.34 364.9,176.98 365.2,177.66 365.4,178.38 365.6,179.16 365.8,179.98 366.0,180.87 366.2,181.82 366.4,182.84 366.6,183.95 366.9,185.15 367.1,186.46 367.3,187.91 367.5,189.52 367.7,191.32 367.9,193.36 368.1,195.73 368.4,198.54 368.6,201.97 368.8,206.40 369.0,212.64 369.2,223.29 369.4,242.03 369.6,223.37 369.9,212.80 370.1,206.64 370.3,202.29 370.5,198.94 370.7,196.21 370.9,193.92 371.1,191.95 371.3,190.23 371.6,188.71 371.8,187.34 372.0,186.11 372.2,184.98 372.4,183.96 372.6,183.01 372.8,182.14 373.1,181.34 373.3,180.59 373.5,179.90 373.7,179.25 373.9,178.65 374.1,178.09 374.3,177.57 374.5,177.08 374.8,176.62 375.0,176.19 375.2,175.79 375.4,175.42 375.6,175.08 375.8,174.75 376.0,174.45 376.3,174.18 376.5,173.92 376.7,173.69 376.9,173.47 377.1,173.27 377.3,173.09 377.5,172.93 377.8,172.79 378.0,172.67 378.2,172.56 378.4,172.46 378.6,172.39 378.8,172.33 379.0,172.28 379.2,172.25 379.5,172.24 379.7,172.24 379.9,172.25 380.1,172.28 380.3,172.33 380.5,172.39 380.7,172.47 381.0,172.56 381.2,172.67 381.4,172.79 381.6,172.93 381.8,173.08 382.0,173.25 382.2,173.44 382.4,173.64 382.7,173.86 382.9,174.10 383.1,174.35 383.3,174.63 383.5,174.92 383.7,175.23 383.9,175.57 384.2,175.92 384.4,176.30 384.6,176.70 384.8,177.12 385.0,177.57 385.2,178.05 385.4,178.55 385.7,179.08 385.9,179.65 386.1,180.25 386.3,180.89 386.5,181.57 386.7,182.29 386.9,183.06 387.1,183.89 387.4,184.77 387.6,185.72 387.8,186.74 388.0,187.84 388.2,189.04 388.4,190.35 388.6,191.80 388.9,193.40 389.1,195.20 389.3,197.24 389.5,199.61 389.7,202.41 389.9,205.84 390.1,210.27 390.3,216.50 390.6,227.15 390.8,242.03 391.0,227.22 391.2,216.65 391.4,210.49 391.6,206.14 391.8,202.78 392.1,200.06 392.3,197.77 392.5,195.80 392.7,194.07 392.9,192.54 393.1,191.17 393.3,189.94 393.6,188.81 393.8,187.78 394.0,186.84 394.2,185.97 394.4,185.16 394.6,184.41 394.8,183.71 395.0,183.07 395.3,182.46 395.5,181.90 395.7,181.37 395.9,180.88 396.1,180.42 396.3,179.99 396.5,179.59 396.8,179.22 397.0,178.87 397.2,178.54 397.4,178.24 397.6,177.96 397.8,177.70 398.0,177.47 398.2,177.25 398.5,177.05 398.7,176.87 398.9,176.70 399.1,176.56 399.3,176.43 399.5,176.32 399.7,176.22 400.0,176.15 400.2,176.08 400.4,176.03 400.6,176.00 400.8,175.99 401.0,175.98 401.2,176.00 401.4,176.03 401.7,176.07 401.9,176.13 402.1,176.20 402.3,176.29 402.5,176.40 402.7,176.52 402.9,176.65 403.2,176.81 403.4,176.97 403.6,177.16 403.8,177.36 404.0,177.58 404.2,177.81 404.4,178.06 404.7,178.34 404.9,178.63 405.1,178.94 405.3,179.27 405.5,179.62 405.7,179.99 405.9,180.39 406.1,180.81 406.4,181.26 406.6,181.73 406.8,182.24 407.0,182.77 407.2,183.33 407.4,183.93 407.6,184.57 407.9,185.24 408.1,185.97 408.3,186.73 408.5,187.55 408.7,188.43 408.9,189.38 409.1,190.40 409.3,191.50 409.6,192.70 409.8,194.01 410.0,195.45 410.2,197.05 410.4,198.85 410.6,200.89 410.8,203.25 411.1,206.05 411.3,209.48 411.5,213.91 411.7,220.14 411.9,230.78 412.1,242.03 412.3,230.85 412.6,220.28 412.8,214.12 413.0,209.76 413.2,206.40 413.4,203.67 413.6,201.38 413.8,199.41 414.0,197.68 414.3,196.15 414.5,194.78 414.7,193.54 414.9,192.41 415.1,191.38 415.3,190.44 415.5,189.56 415.8,188.75 416.0,188.00 416.2,187.30 416.4,186.65 416.6,186.05 416.8,185.48 417.0,184.95 417.2,184.46 417.5,184.00 417.7,183.57 417.9,183.16 418.1,182.79 418.3,182.44 418.5,182.11 418.7,181.81 419.0,181.52 419.2,181.26 419.4,181.02 419.6,180.80 419.8,180.60 420.0,180.42 420.2,180.25 420.5,180.11 420.7,179.98 420.9,179.86 421.1,179.77 421.3,179.68 421.5,179.62 421.7,179.57 421.9,179.54 422.2,179.52 422.4,179.51 422.6,179.53 422.8,179.55 423.0,179.59 423.2,179.65 423.4,179.72 423.7,179.81 423.9,179.91 424.1,180.03 424.3,180.16 424.5,180.31 424.7,180.48 424.9,180.66 425.1,180.86 425.4,181.08 425.6,181.31 425.8,181.56 426.0,181.83 426.2,182.12 426.4,182.43 426.6,182.76 426.9,183.11 427.1,183.48 427.3,183.87 427.5,184.29 427.7,184.74 427.9,185.21 428.1,185.71 428.4,186.24 428.6,186.80 428.8,187.40 429.0,188.03 429.2,188.71 429.4,189.43 429.6,190.19 429.8,191.01 430.1,191.89 430.3,192.83 430.5,193.85 430.7,194.95 430.9,196.15 431.1,197.45 431.3,198.89 431.6,200.49 431.8,202.29 432.0,204.33 432.2,206.69 432.4,209.49 432.6,212.92 432.8,217.34 433.0,223.57 433.3,234.21 433.5,242.03 433.7,234.28 433.9,223.70 434.1,217.54 434.3,213.18 434.5,209.82 434.8,207.09 435.0,204.79 435.2,202.82 435.4,201.09 435.6,199.56 435.8,198.19 436.0,196.94 436.3,195.82 436.5,194.78 436.7,193.83 436.9,192.96 437.1,192.15 437.3,191.39 437.5,190.69 437.7,190.04 438.0,189.43 438.2,188.87 438.4,188.34 438.6,187.84 438.8,187.38 439.0,186.94 439.2,186.54 439.5,186.16 439.7,185.81 439.9,185.48 440.1,185.17 440.3,184.89 440.5,184.63 440.7,184.39 440.9,184.16 441.2,183.96 441.4,183.78 441.6,183.61 441.8,183.46 442.0,183.33 442.2,183.21 442.4,183.11 442.7,183.03 442.9,182.96 443.1,182.91 443.3,182.88 443.5,182.85 443.7,182.85 443.9,182.86 444.1,182.88 444.4,182.92 444.6,182.98 444.8,183.05 445.0,183.13 445.2,183.24 445.4,183.35 445.6,183.48 445.9,183.63 446.1,183.80 446.3,183.98 446.5,184.17 446.7,184.39 446.9,184.62 447.1,184.87 447.4,185.14 447.6,185.42 447.8,185.73 448.0,186.06 448.2,186.40 448.4,186.78 448.6,187.17 448.8,187.59 449.1,188.03 449.3,188.50 449.5,189.00 449.7,189.53 449.9,190.09 450.1,190.68 450.3,191.32 450.6,191.99 450.8,192.70 451.0,193.47 451.2,194.29 451.4,195.16 451.6,196.10 451.8,197.12 452.0,198.22 452.3,199.41 452.5,200.72 452.7,202.15 452.9,203.75 453.1,205.54 453.3,207.58 453.5,209.94 453.8,212.74 454.0,216.17 454.2,220.59 454.4,226.81 454.6,237.46 454.8,242.03 455.0,237.52 455.3,226.94 455.5,220.78 455.7,216.42 455.9,213.05 456.1,210.32 456.3,208.03 456.5,206.05 456.7,204.32 457.0,202.79 457.2,201.41 457.4,200.17 457.6,199.04 457.8,198.00 458.0,197.05 458.2,196.17 458.5,195.36 458.7,194.61 458.9,193.90 459.1,193.25 459.3,192.64 459.5,192.07 459.7,191.54 459.9,191.04 460.2,190.58 460.4,190.14 460.6,189.73 460.8,189.36 461.0,189.00 461.2,188.67 461.4,188.36 461.7,188.08 461.9,187.81 462.1,187.57 462.3,187.35 462.5,187.14 462.7,186.96 462.9,186.79 463.2,186.64 463.4,186.50 463.6,186.39 463.8,186.29 464.0,186.20 464.2,186.13 464.4,186.08 464.6,186.04 464.9,186.02 465.1,186.01 465.3,186.02 465.5,186.04"/>
<polyline stroke="#ec1818" points="38.5,3.98 38.7,3.98 38.9,3.98 39.1,3.99 39.4,4.00 39.6,4.02 39.8,4.04 40.0,4.06 40.2,4.08 40.4,4.11 40.6,4.14 40.8,4.17 41.1,4.20 41.3,4.24 41.5,4.27 41.7,4.31 41.9,4.36 42.1,4.40 42.3,4.45 42.6,4.50 42.8,4.54 43.0,4.60 43.2,4.65 43.4,4.70 43.6,4.76 43.8,4.81 44.1,4.87 44.3,4.93 44.5,4.99 44.7,5.05 44.9,5.11 45.1,5.17 45.3,5.23 45.5,5.29 45.8,5.36 46.0,5.42 46.2,5.48 46.4,5.54 46.6,5.61 46.8,5.67 47.0,5.73 47.3,5.79 47.5,5.86 47.7,5.93 47.9,6.00 48.1,6.07 48.3,6.14 48.5,6.22 48.7,6.30 49.0,6.38 49.2,6.46 49.4,6.55 49.6,6.64 49.8,6.73 50.0,6.82 50.2,6.92 50.5,7.01 50.7,7.11 50.9,7.21 51.1,7.32 51.3,7.42 51.5,7.53 51.7,7.64 52.0,7.76 52.2,7.87 52.4,7.99 52.6,8.11 52.8,8.23 53.0,8.35 53.2,8.48 53.4,8.61 53.7,8.74 53.9,8.87 54.1,9.00 54.3,9.14 54.5,9.28 54.7,9.42 54.9,9.56 55.2,9.71 55.4,9.86 55.6,10.02 55.8,10.18 56.0,10.35 56.2,10.53 56.4,10.71 56.6,10.90 56.9,11.10 57.1,11.29 57.3,11.50 57.5,11.71 57.7,11.92 57.9,12.14 58.1,12.37 58.4,12.59 58.6,12.83 58.8,13.07 59.0,13.31 59.2,13.56 59.4,13.81 59.6,14.06 59.9,14.32 60.1,14.58 60.3,14.85 60.5,15.12 60.7,15.39 60.9,15.67 61.1,15.95 61.3,16.24 61.6,16.52 61.8,16.81 62.0,17.11 62.2,17.40 62.4,17.70 62.6,18.00 62.8,18.30 63.1,18.61 63.3,18.91 63.5,19.22 63.7,19.54 63.9,19.86 64.1,20.19 64.3,20.53 64.5,20.88 64.8,21.24 65.0,21.60 65.2,21.98 65.4,22.36 65.6,22.75 65.8,23.15 66.0,23.55 66.3,23.97 66.5,24.39 66.7,24.82 66.9,25.25 67.1,25.70 67.3,26.15 67.5,26.60 67.7,27.07 68.0,27.54 68.2,28.02 68.4,28.50 68.6,28.99 68.8,29.49 69.0,29.98 69.2,30.48 69.5,30.99 69.7,31.51 69.9,32.04 70.1,32.59 70.3,33.16 70.5,33.75 70.7,34.36 71.0,35.00 71.2,35.67 71.4,36.38 71.6,37.12 71.8,37.90 72.0,38.72 72.2,39.64 72.4,40.67 72.7,41.81 72.9,43.04 73.1,44.33 73.3,45.68 73.5,47.07 73.7,48.47 73.9,49.84 74.2,51.35 74.4,53.02 74.6,54.90 74.8,57.04 75.0,59.52 75.2,62.50 75.4,66.19 75.6,71.06 75.9,78.26 76.1,92.27 76.3,114.71 76.5,77.23 76.7,68.65 76.9,63.19 77.1,59.17 77.4,55.99 77.6,53.35 77.8,51.28 78.0,49.67 78.2,48.14 78.4,46.72 78.6,45.48 78.9,44.45 79.1,43.67 79.3,43.00 79.5,42.38 79.7,41.83 79.9,41.32 80.1,40.86 80.3,40.44 80.6,40.06 80.8,39.70 81.0,39.37 81.2,39.05 81.4,38.75 81.6,38.46 81.8,38.17 82.1,37.90 82.3,37.63 82.5,37.38 82.7,37.14 82.9,36.91 83.1,36.69 83.3,36.49 83.5,36.30 83.8,36.13 84.0,35.98 84.2,35.84 84.4,35.71 84.6,35.61 84.8,35.51 85.0,35.41 85.3,35.31 85.5,35.21 85.7,35.12 85.9,35.03 86.1,34.94 86.3,34.86 86.5,34.78 86.8,34.71 87.0,34.64 87.2,34.57 87.4,34.51 87.6,34.45 87.8,34.40 88.0,34.36 88.2,34.32 88.5,34.29 88.7,34.27 88.9,34.25 89.1,34.24 89.3,34.24 89.5,34.25 89.7,34.26 90.0,34.28 90.2,34.30 90.4,34.33 90.6,34.37 90.8,34.40 91.0,34.45 91.2,34.49 91.4,34.54 91.7,34.60 91.9,34.66 92.1,34.72 92.3,34.78 92.5,34.84 92.7,34.91 92.9,34.98 93.2,35.05 93.4,35.12 93.6,35.19 93.8,35.26 94.0,35.33 94.2,35.41 94.4,35.50 94.7,35.59 94.9,35.69 95.1,35.80 95.3,35.92 95.5,36.04 95.7,36.16 95.9,36.30 96.1,36.43 96.4,36.58 96.6,36.73 96.8,36.89 97.0,37.05 97.2,37.21 97.4,37.39 97.6,37.56 97.9,37.74 98.1,37.93 98.3,38.12 98.5,38.31 98.7,38.51 98.9,38.72 99.1,38.92 99.3,39.13 99.6,39.35 99.8,39.56 100.0,39.78 100.2,40.01 100.4,40.23 100.6,40.46 100.8,40.69 101.1,40.92 101.3,41.16 101.5,41.40 101.7,41.64 101.9,41.88 102.1,42.13 102.3,42.40 102.5,42.70 102.8,43.03 103.0,43.37 103.2,43.74 103.4,44.12 103.6,44.51 103.8,44.93 104.0,45.36 104.3,45.80 104.5,46.26 104.7,46.74 104.9,47.22 105.1,47.72 105.3,48.23 105.5,48.75 105.8,49.27 106.0,49.81 106.2,50.35 106.4,50.89 106.6,51.44 106.8,52.00 107.0,52.56 107.2,53.12 107.5,53.68 107.7,54.24 107.9,54.80 108.1,55.35 108.3,55.92 108.5,56.49 108.7,57.07 109.0,57.66 109.2,58.25 109.4,58.85 109.6,59.46 109.8,60.07 110.0,60.69 110.2,61.31 110.4,61.94 110.7,62.58 110.9,63.22 111.1,63.86 111.3,64.52 111.5,65.17 111.7,65.84 111.9,66.51 112.2,67.18 112.4,68.28 112.6,70.91 112.8,74.08 113.0,78.10 113.2,83.55 113.4,92.09 113.7,158.80 113.9,107.64 114.1,93.54 114.3,86.32 114.5,81.43 114.7,77.73 114.9,74.76 115.1,72.27 115.4,70.12 115.6,68.25 115.8,67.15 116.0,66.38 116.2,65.63 116.4,64.91 116.6,64.22 116.9,63.57 117.1,62.95 117.3,62.39 117.5,61.88 117.7,61.43 117.9,61.03 118.1,60.69 118.3,60.36 118.6,60.04 118.8,59.74 119.0,59.46 119.2,59.20 119.4,58.95 119.6,58.72 119.8,58.51 120.1,58.32 120.3,58.15 120.5,57.99 120.7,57.86 120.9,57.75 121.1,57.63 121.3,57.52 121.6,57.41 121.8,57.31 122.0,57.20 122.2,57.10 122.4,57.00 122.6,56.91 122.8,56.81 123.0,56.72 123.3,56.64 123.5,56.56 123.7,56.48 123.9,56.40 124.1,56.33 124.3,56.27 124.5,56.21 124.8,56.15 125.0,56.10 125.2,56.05 125.4,56.01 125.6,55.98 125.8,55.95 126.0,55.93 126.2,55.91 126.5,55.90 126.7,55.89 126.9,55.90 127.1,55.91 127.3,55.92 127.5,55.95 127.7,55.98 128.0,56.02 128.2,56.07 128.4,56.12 128.6,56.17 128.8,56.24 129.0,56.30 129.2,56.37 129.5,56.45 129.7,56.53 129.9,56.61 130.1,56.70 130.3,56.78 130.5,56.87 130.7,56.97 130.9,57.06 131.2,57.16 131.4,57.25 131.6,57.35 131.8,57.44 132.0,57.54 132.2,57.64 132.4,57.73 132.7,57.83 132.9,57.94 133.1,58.04 133.3,58.16 133.5,58.27 133.7,58.39 133.9,58.52 134.1,58.64 134.4,58.77 134.6,58.91 134.8,59.05 135.0,59.19 135.2,59.34 135.4,59.49 135.6,59.65 135.9,59.81 136.1,59.97 136.3,60.14 136.5,60.31 136.7,60.49 136.9,60.67 137.1,60.85 137.4,61.04 137.6,61.24 137.8,61.44 138.0,61.64 138.2,61.84 138.4,62.05 138.6,62.27 138.8,62.49 139.1,62.71 139.3,62.94 139.5,63.18 139.7,63.41 139.9,63.65 140.1,63.90 140.3,64.15 140.6,64.41 140.8,64.67 141.0,64.94 141.2,65.24 141.4,65.56 141.6,65.90 141.8,66.27 142.0,66.65 142.3,67.05 142.5,67.47 142.7,67.90 142.9,68.35 143.1,68.81 143.3,69.28 143.5,69.76 143.8,70.25 144.0,70.75 144.2,71.25 144.4,71.76 144.6,72.28 144.8,72.79 145.0,73.31 145.2,73.83 145.5,74.35 145.7,74.86 145.9,75.40 146.1,75.94 146.3,76.49 146.5,77.06 146.7,77.64 147.0,78.22 147.2,78.82 147.4,79.44 147.6,80.06 147.8,80.69 148.0,81.34 148.2,82.00 148.5,82.66 148.7,83.35 148.9,84.04 149.1,84.74 149.3,85.47 149.5,86.22 149.7,86.99 149.9,87.78 150.2,88.59 150.4,89.41 150.6,90.25 150.8,91.10 151.0,91.96 151.2,92.84 151.4,93.73 151.7,96.09 151.9,98.88 152.1,102.30 152.3,106.72 152.5,112.94 152.7,123.61 152.9,172.20 153.1,132.57 153.4,122.00 153.6,115.81 153.8,111.41 154.0,108.00 154.2,105.21 154.4,102.87 154.6,101.67 154.9,100.49 155.1,99.34 155.3,98.23 155.5,97.19 155.7,96.20 155.9,95.30 156.1,94.49 156.4,93.78 156.6,93.19 156.8,92.66 157.0,92.15 157.2,91.66 157.4,91.19 157.6,90.74 157.8,90.32 158.1,89.91 158.3,89.54 158.5,89.18 158.7,88.86 158.9,88.57 159.1,88.30 159.3,88.07 159.6,87.87 159.8,87.70 160.0,87.57 160.2,87.46 160.4,87.34 160.6,87.24 160.8,87.13 161.0,87.03 161.3,86.94 161.5,86.85 161.7,86.77 161.9,86.69 162.1,86.62 162.3,86.56 162.5,86.51 162.8,86.46 163.0,86.42 163.2,86.39 163.4,86.36 163.6,86.35 163.8,86.35 164.0,86.35 164.3,86.37 164.5,86.40 164.7,86.44 164.9,86.48 165.1,86.54 165.3,86.60 165.5,86.68 165.7,86.75 166.0,86.84 166.2,86.93 166.4,87.02 166.6,87.12 166.8,87.23 167.0,87.33 167.2,87.44 167.5,87.56 167.7,87.67 167.9,87.78 168.1,87.90 168.3,88.01 168.5,88.12 168.7,88.24 168.9,88.37 169.2,88.50 169.4,88.64 169.6,88.79 169.8,88.95 170.0,89.12 170.2,89.29 170.4,89.47 170.7,89.65 170.9,89.84 171.1,90.04 171.3,90.24 171.5,90.45 171.7,90.66 171.9,90.87 172.2,91.09 172.4,91.32 172.6,91.55 172.8,91.78 173.0,92.01 173.2,92.25 173.4,92.49 173.6,92.73 173.9,92.97 174.1,93.22 174.3,93.46 174.5,93.71 174.7,93.96 174.9,94.21 175.1,94.45 175.4,94.70 175.6,94.95 175.8,95.20 176.0,95.45 176.2,95.70 176.4,95.96 176.6,96.23 176.8,96.49 177.1,96.77 177.3,97.04 177.5,97.32 177.7,97.61 177.9,97.90 178.1,98.19 178.3,98.48 178.6,98.78 178.8,99.08 179.0,99.39 179.2,99.69 179.4,100.00 179.6,100.32 179.8,100.63 180.1,100.95 180.3,101.27 180.5,101.60 180.7,101.92 180.9,102.25 181.1,102.58 181.3,102.91 181.5,103.24 181.8,103.57 182.0,103.91 182.2,104.24 182.4,104.58 182.6,104.92 182.8,105.26 183.0,105.62 183.3,105.97 183.5,106.34 183.7,106.71 183.9,107.09 184.1,107.47 184.3,107.86 184.5,108.25 184.7,108.64 185.0,109.04 185.2,109.44 185.4,109.84 185.6,110.24 185.8,110.64 186.0,111.05 186.2,111.45 186.5,111.85 186.7,112.25 186.9,112.64 187.1,113.04 187.3,113.43 187.5,113.82 187.7,114.20 187.9,114.58 188.2,114.95 188.4,115.32 188.6,115.68 188.8,116.03 189.0,116.38 189.2,116.72 189.4,117.04 189.7,117.36 189.9,117.67 190.1,117.97 190.3,118.28 190.5,118.58 190.7,118.88 190.9,119.18 191.2,119.49 191.4,119.80 191.6,120.12 191.8,120.45 192.0,120.79 192.2,121.14 192.4,121.50 192.6,121.88 192.9,122.26 193.1,122.65 193.3,123.04 193.5,123.44 193.7,123.85 193.9,124.27 194.1,124.69 194.4,125.11 194.6,125.54 194.8,125.98 195.0,126.42 195.2,126.87 195.4,127.32 195.6,127.78 195.8,128.25 196.1,128.71 196.3,129.18 196.5,129.66 196.7,130.14 196.9,130.63 197.1,131.11 197.3,131.61 197.6,132.10 197.8,132.60 198.0,133.10 198.2,133.61 198.4,134.11 198.6,134.63 198.8,135.14 199.1,135.65 199.3,136.16 199.5,136.67 199.7,137.18 199.9,137.70 200.1,138.22 200.3,138.75 200.5,139.29 200.8,139.83 201.0,140.39 201.2,140.96 201.4,141.54 201.6,142.14 201.8,142.76 202.0,143.39 202.3,144.04 202.5,144.72 202.7,145.41 202.9,146.14 203.1,146.89 203.3,147.69 203.5,148.55 203.7,149.46 204.0,150.41 204.2,151.41 204.4,152.43 204.6,153.48 204.8,154.55 205.0,155.64 205.2,158.81 205.5,166.52 205.7,182.77 205.9,233.74 206.1,183.42 206.3,175.47 206.5,170.26 206.7,166.39 207.0,163.30 207.2,160.72 207.4,158.52 207.6,156.60 207.8,155.20 208.0,154.18 208.2,153.18 208.4,152.19 208.7,151.23 208.9,150.29 209.1,149.39 209.3,148.52 209.5,147.69 209.7,146.90 209.9,146.15 210.2,145.46 210.4,144.81 210.6,144.18 210.8,143.55 211.0,142.93 211.2,142.32 211.4,141.72 211.6,141.14 211.9,140.57 212.1,140.02 212.3,139.49 212.5,138.98 212.7,138.49 212.9,138.02 213.1,137.58 213.4,137.17 213.6,136.78 213.8,136.43 214.0,136.10 214.2,135.81 214.4,135.56 214.6,135.34 214.9,135.12 215.1,134.91 215.3,134.69 215.5,134.49 215.7,134.28 215.9,134.08 216.1,133.89 216.3,133.70 216.6,133.51 216.8,133.33 217.0,133.16 217.2,132.99 217.4,132.83 217.6,132.67 217.8,132.53 218.1,132.39 218.3,132.25 218.5,132.13 218.7,132.02 218.9,131.91 219.1,131.81 219.3,131.72 219.5,131.65 219.8,131.58 220.0,131.52 220.2,131.48 220.4,131.44 220.6,131.42 220.8,131.41 221.0,131.41 221.3,131.42 221.5,131.45 221.7,131.49 221.9,131.53 222.1,131.59 222.3,131.65 222.5,131.73 222.8,131.81 223.0,131.90 223.2,132.00 223.4,132.10 223.6,132.21 223.8,132.33 224.0,132.45 224.2,132.57 224.5,132.70 224.7,132.83 224.9,132.97 225.1,133.10 225.3,133.24 225.5,133.37 225.7,133.51 226.0,133.65 226.2,133.79 226.4,133.94 226.6,134.10 226.8,134.28 227.0,134.46 227.2,134.66 227.4,134.86 227.7,135.08 227.9,135.30 228.1,135.53 228.3,135.77 228.5,136.01 228.7,136.26 228.9,136.52 229.2,136.78 229.4,137.05 229.6,137.32 229.8,137.60 230.0,137.87 230.2,138.15 230.4,138.43 230.7,138.71 230.9,139.00 231.1,139.29 231.3,139.59 231.5,139.89 231.7,140.20 231.9,140.52 232.1,140.85 232.4,141.19 232.6,141.53 232.8,141.88 233.0,142.24 233.2,142.61 233.4,142.99 233.6,143.38 233.9,143.77 234.1,144.18 234.3,144.59 234.5,145.02 234.7,145.45 234.9,145.90 235.1,146.35 235.3,146.81 235.6,147.29 235.8,147.78 236.0,148.28 236.2,148.81 236.4,149.35 236.6,149.91 236.8,150.49 237.1,151.10 237.3,151.72 237.5,152.38 237.7,153.05 237.9,153.76 238.1,154.51 238.3,155.31 238.5,156.18 238.8,157.10 239.0,158.08 239.2,159.10 239.4,160.16 239.6,161.26 239.8,162.40 240.0,163.57 240.3,164.77 240.5,165.99 240.7,167.83 240.9,170.11 241.1,172.80 241.3,176.07 241.5,180.22 241.8,185.94 242.0,195.18 242.2,268.48 242.4,209.74 242.6,197.36 242.8,190.70 243.0,186.16 243.2,182.72 243.5,179.98 243.7,177.70 243.9,175.76 244.1,174.07 244.3,172.60 244.5,171.29 244.7,170.11 245.0,169.05 245.2,168.09 245.4,167.22 245.6,166.41 245.8,165.68 246.0,165.01 246.2,164.38 246.4,163.81 246.7,163.28 246.9,162.79 247.1,162.34 247.3,161.92 247.5,161.54 247.7,161.18 247.9,160.86 248.2,160.56 248.4,160.28 248.6,160.03 248.8,159.81 249.0,159.60 249.2,159.41 249.4,159.25 249.7,159.10 249.9,158.97 250.1,158.86 250.3,158.77 250.5,158.69 250.7,158.63 250.9,158.59 251.1,158.56 251.4,158.55 251.6,158.55 251.8,158.57 252.0,158.60 252.2,158.64 252.4,158.70 252.6,158.78 252.9,158.87 253.1,158.97 253.3,159.08 253.5,159.21 253.7,159.36 253.9,159.51 254.1,159.69 254.3,159.87 254.6,160.07 254.8,160.28 255.0,160.51 255.2,160.75 255.4,161.00 255.6,161.27 255.8,161.56 256.1,161.86 256.3,162.17 256.5,162.50 256.7,162.85 256.9,163.21 257.1,163.60 257.3,163.99 257.6,164.41 257.8,164.85 258.0,165.30 258.2,165.78 258.4,166.28 258.6,166.80 258.8,167.34 259.0,167.91 259.3,168.50 259.5,169.12 259.7,169.78 259.9,170.46 260.1,171.18 260.3,171.93 260.5,172.72 260.8,173.56 261.0,174.44 261.2,175.38 261.4,176.37 261.6,177.43 261.8,178.56 262.0,179.78 262.2,181.08 262.5,182.50 262.7,184.06 262.9,185.77 263.1,187.67 263.3,189.82 263.5,192.29 263.7,195.19 264.0,198.72 264.2,203.24 264.4,209.55 264.6,220.22 264.8,268.48 265.0,219.77 265.2,209.22 265.5,203.14 265.7,198.88 265.9,195.61 266.1,192.98 266.3,190.79 266.5,188.92 266.7,187.30 266.9,185.87 267.2,184.60 267.4,183.47 267.6,182.44 267.8,181.51 268.0,180.67 268.2,179.90 268.4,179.19 268.7,178.55 268.9,177.95 269.1,177.40 269.3,176.90 269.5,176.44 269.7,176.01 269.9,175.62 270.1,175.26 270.4,174.94 270.6,174.63 270.8,174.36 271.0,174.11 271.2,173.89 271.4,173.69 271.6,173.51 271.9,173.35 272.1,173.21 272.3,173.09 272.5,172.99 272.7,172.91 272.9,172.85 273.1,172.80 273.4,172.78 273.6,172.76 273.8,172.77 274.0,172.79 274.2,172.83 274.4,172.89 274.6,172.96 274.8,173.05 275.1,173.15 275.3,173.27 275.5,173.40 275.7,173.56 275.9,173.72 276.1,173.91 276.3,174.11 276.6,174.32 276.8,174.55 277.0,174.80 277.2,175.06 277.4,175.35 277.6,175.64 277.8,175.96 278.0,176.30 278.3,176.65 278.5,177.02 278.7,177.41 278.9,177.82 279.1,178.25 279.3,178.70 279.5,179.18 279.8,179.68 280.0,180.20 280.2,180.75 280.4,181.32 280.6,181.93 280.8,182.56 281.0,183.23 281.2,183.94 281.5,184.68 281.7,185.46 281.9,186.28 282.1,187.16 282.3,188.08 282.5,189.07 282.7,190.12 283.0,191.25 283.2,192.46 283.4,193.77 283.6,195.20 283.8,196.76 284.0,198.49 284.2,200.41 284.5,202.60 284.7,205.12 284.9,208.11 285.1,211.77 285.3,216.52 285.5,223.33 285.7,235.61 285.9,268.48 286.2,228.46 286.4,219.16 286.6,213.51 286.8,209.46 287.0,206.32 287.2,203.77 287.4,201.64 287.7,199.81 287.9,198.21 288.1,196.81 288.3,195.56 288.5,194.44 288.7,193.43 288.9,192.51 289.1,191.67 289.4,190.91 289.6,190.21 289.8,189.58 290.0,188.99 290.2,188.45 290.4,187.95 290.6,187.50 290.9,187.08 291.1,186.70 291.3,186.35 291.5,186.03 291.7,185.74 291.9,185.48 292.1,185.24 292.4,185.03 292.6,184.84 292.8,184.68 293.0,184.54 293.2,184.42 293.4,184.32 293.6,184.24 293.8,184.18 294.1,184.14 294.3,184.12 294.5,184.12 294.7,184.14 294.9,184.18 295.1,184.24 295.3,184.32 295.6,184.41 295.8,184.53 296.0,184.67 296.2,184.82 296.4,185.00 296.6,185.19 296.8,185.41 297.0,185.64 297.3,185.90 297.5,186.18 297.7,186.48 297.9,186.81 298.1,187.16 298.3,187.54 298.5,187.94 298.8,188.37 299.0,188.83 299.2,189.32 299.4,189.84 299.6,190.40 299.8,191.00 300.0,191.63 300.3,192.31 300.5,193.03 300.7,193.81 300.9,194.64 301.1,195.53 301.3,196.49 301.5,197.53 301.7,198.66 302.0,199.89 302.2,201.24 302.4,202.74 302.6,204.40 302.8,206.28 303.0,208.43 303.2,210.93 303.5,213.92 303.7,217.64 303.9,222.56 304.1,229.81 304.3,243.96 304.5,268.48 304.7,235.87 304.9,227.38 305.2,221.99 305.4,218.05 305.6,214.94 305.8,212.39 306.0,210.23 306.2,208.36 306.4,206.72 306.7,205.26 306.9,203.95 307.1,202.77 307.3,201.69 307.5,200.70 307.7,199.79 307.9,198.95 308.2,198.17 308.4,197.45 308.6,196.78 308.8,196.16 309.0,195.58 309.2,195.04 309.4,194.54 309.6,194.07 309.9,193.63 310.1,193.22 310.3,192.84 310.5,192.48 310.7,192.15 310.9,191.84 311.1,191.56 311.4,191.30 311.6,191.06 311.8,190.84 312.0,190.64 312.2,190.45 312.4,190.29 312.6,190.14 312.8,190.02 313.1,189.90 313.3,189.81 313.5,189.73 313.7,189.67 313.9,189.62 314.1,189.59 314.3,189.58 314.6,189.58 314.8,189.59 315.0,189.62 315.2,189.67 315.4,189.73 315.6,189.80 315.8,189.89 316.1,190.00 316.3,190.12 316.5,190.25 316.7,190.40 316.9,190.56 317.1,190.74 317.3,190.94 317.5,191.15 317.8,191.38 318.0,191.62 318.2,191.88 318.4,192.16 318.6,192.45 318.8,192.76 319.0,193.10 319.3,193.45 319.5,193.82 319.7,194.21 319.9,194.62 320.1,195.06 320.3,195.52 320.5,196.00 320.7,196.51 321.0,197.05 321.2,197.62 321.4,198.21 321.6,198.85 321.8,199.51 322.0,200.22 322.2,200.97 322.5,201.76 322.7,202.61 322.9,203.51 323.1,204.47 323.3,205.50 323.5,206.61 323.7,207.80 323.9,209.11 324.2,210.53 324.4,212.10 324.6,213.85 324.8,215.82 325.0,218.06 325.2,220.69 325.4,223.84 325.7,227.78 325.9,233.05 326.1,241.08 326.3,268.48 326.5,256.21 326.7,240.08 326.9,232.47 327.2,227.47 327.4,223.75 327.6,220.80 327.8,218.37 328.0,216.31 328.2,214.52 328.4,212.95 328.6,211.55 328.9,210.30 329.1,209.17 329.3,208.14 329.5,207.21 329.7,206.35 329.9,205.56 330.1,204.83 330.4,204.15 330.6,203.53 330.8,202.95 331.0,202.41 331.2,201.91 331.4,201.45 331.6,201.02 331.8,200.62 332.1,200.26 332.3,199.91 332.5,199.60 332.7,199.31 332.9,199.04 333.1,198.80 333.3,198.58 333.6,198.37 333.8,198.19 334.0,198.03 334.2,197.89 334.4,197.76 334.6,197.65 334.8,197.56 335.1,197.49 335.3,197.43 335.5,197.39 335.7,197.36 335.9,197.35 336.1,197.36 336.3,197.38 336.5,197.42 336.8,197.47 337.0,197.54 337.2,197.62 337.4,197.72 337.6,197.83 337.8,197.96 338.0,198.11 338.3,198.27 338.5,198.45 338.7,198.64 338.9,198.86 339.1,199.08 339.3,199.33 339.5,199.59 339.7,199.87 340.0,200.17 340.2,200.49 340.4,200.83 340.6,201.19 340.8,201.57 341.0,201.98 341.2,202.40 341.5,202.85 341.7,203.33 341.9,203.83 342.1,204.36 342.3,204.92 342.5,205.51 342.7,206.13 343.0,206.80 343.2,207.50 343.4,208.24 343.6,209.03 343.8,209.88 344.0,210.78 344.2,211.74 344.4,212.77 344.7,213.89 344.9,215.09 345.1,216.41 345.3,217.85 345.5,219.44 345.7,221.21 345.9,223.21 346.2,225.51 346.4,228.21 346.6,231.47 346.8,235.60 347.0,241.22 347.2,250.11 347.4,268.48 347.6,259.78 347.9,246.48 348.1,239.53 348.3,234.82 348.5,231.26 348.7,228.41 348.9,226.04 349.1,224.02 349.4,222.27 349.6,220.72 349.8,219.34 350.0,218.09 350.2,216.97 350.4,215.94 350.6,215.00 350.9,214.13 351.1,213.34 351.3,212.60 351.5,211.91 351.7,211.27 351.9,210.68 352.1,210.13 352.3,209.62 352.6,209.14 352.8,208.69 353.0,208.27 353.2,207.88 353.4,207.52 353.6,207.18 353.8,206.87 354.1,206.57 354.3,206.30 354.5,206.06 354.7,205.83 354.9,205.62 355.1,205.42 355.3,205.25 355.5,205.09 355.8,204.95 356.0,204.82 356.2,204.72 356.4,204.62 356.6,204.54 356.8,204.48 357.0,204.43 357.3,204.40 357.5,204.38 357.7,204.37 357.9,204.38 358.1,204.40 358.3,204.43 358.5,204.48 358.8,204.54 359.0,204.62 359.2,204.71 359.4,204.81 359.6,204.93 359.8,205.06 360.0,205.21 360.2,205.37 360.5,205.55 360.7,205.74 360.9,205.95 361.1,206.17 361.3,206.41 361.5,206.66 361.7,206.93 362.0,207.22 362.2,207.53 362.4,207.85 362.6,208.20 362.8,208.57 363.0,208.95 363.2,209.36 363.4,209.80 363.7,210.26 363.9,210.74 364.1,211.25 364.3,211.79 364.5,212.37 364.7,212.97 364.9,213.61 365.2,214.30 365.4,215.02 365.6,215.80 365.8,216.62 366.0,217.50 366.2,218.45 366.4,219.46 366.6,220.57 366.9,221.76 367.1,223.06 367.3,224.50 367.5,226.09 367.7,227.87 367.9,229.89 368.1,232.23 368.4,234.99 368.6,238.35 368.8,242.67 369.0,248.68 369.2,258.68 369.4,268.48 369.6,260.92 369.9,249.61 370.1,243.21 370.3,238.74 370.5,235.31 370.7,232.54 370.9,230.22 371.1,228.23 371.3,226.48 371.6,224.94 371.8,223.56 372.0,222.32 372.2,221.19 372.4,220.16 372.6,219.21 372.8,218.34 373.1,217.53 373.3,216.78 373.5,216.09 373.7,215.44 373.9,214.84 374.1,214.28 374.3,213.76 374.5,213.28 374.8,212.82 375.0,212.40 375.2,212.01 375.4,211.64 375.6,211.30 375.8,210.99 376.0,210.70 376.3,210.43 376.5,210.19 376.7,209.96 376.9,209.76 377.1,209.57 377.3,209.41 377.5,209.26 377.8,209.13 378.0,209.02 378.2,208.93 378.4,208.86 378.6,208.80 378.8,208.76 379.0,208.73 379.2,208.72 379.5,208.73 379.7,208.76 379.9,208.80 380.1,208.85 380.3,208.93 380.5,209.02 380.7,209.12 381.0,209.25 381.2,209.39 381.4,209.54 381.6,209.72 381.8,209.91 382.0,210.12 382.2,210.35 382.4,210.59 382.7,210.85 382.9,211.14 383.1,211.44 383.3,211.76 383.5,212.10 383.7,212.47 383.9,212.85 384.2,213.26 384.4,213.69 384.6,214.15 384.8,214.64 385.0,215.15 385.2,215.69 385.4,216.26 385.7,216.87 385.9,217.51 386.1,218.19 386.3,218.91 386.5,219.67 386.7,220.49 386.9,221.36 387.1,222.28 387.4,223.28 387.6,224.35 387.8,225.50 388.0,226.75 388.2,228.12 388.4,229.62 388.6,231.28 388.9,233.14 389.1,235.26 389.3,237.70 389.5,240.60 389.7,244.15 389.9,248.74 390.1,255.28 390.3,266.75 390.6,268.48 390.8,264.30 391.0,254.46 391.2,248.58 391.4,244.39 391.6,241.15 391.8,238.51 392.1,236.30 392.3,234.40 392.5,232.74 392.7,231.27 392.9,229.96 393.1,228.78 393.3,227.71 393.6,226.73 393.8,225.83 394.0,225.01 394.2,224.25 394.4,223.55 394.6,222.90 394.8,222.29 395.0,221.73 395.3,221.21 395.5,220.73 395.7,220.28 395.9,219.86 396.1,219.47 396.3,219.11 396.5,218.77 396.8,218.46 397.0,218.17 397.2,217.91 397.4,217.66 397.6,217.44 397.8,217.24 398.0,217.05 398.2,216.88 398.5,216.73 398.7,216.60 398.9,216.48 399.1,216.38 399.3,216.30 399.5,216.23 399.7,216.18 400.0,216.14 400.2,216.11 400.4,216.10 400.6,216.11 400.8,216.13 401.0,216.16 401.2,216.21 401.4,216.27 401.7,216.34 401.9,216.44 402.1,216.54 402.3,216.66 402.5,216.80 402.7,216.95 402.9,217.11 403.2,217.29 403.4,217.49 403.6,217.70 403.8,217.93 404.0,218.18 404.2,218.44 404.4,218.72 404.7,219.02 404.9,219.33 405.1,219.67 405.3,220.03 405.5,220.41 405.7,220.81 405.9,221.23 406.1,221.68 406.4,222.15 406.6,222.65 406.8,223.18 407.0,223.74 407.2,224.33 407.4,224.95 407.6,225.62 407.9,226.32 408.1,227.07 408.3,227.87 408.5,228.73 408.7,229.64 408.9,230.62 409.1,231.67 409.3,232.82 409.6,234.06 409.8,235.42 410.0,236.92 410.2,238.58 410.4,240.46 410.6,242.59 410.8,245.08 411.1,248.05 411.3,251.73 411.5,256.56 411.7,263.63 411.9,268.48 412.1,268.48 412.3,267.43 412.6,258.67 412.8,253.17 413.0,249.17 413.2,246.03 413.4,243.45 413.6,241.27 413.8,239.39 414.0,237.74 414.3,236.28 414.5,234.96 414.7,233.78 414.9,232.70 415.1,231.71 415.3,230.80 415.5,229.97 415.8,229.20 416.0,228.48 416.2,227.82 416.4,227.20 416.6,226.63 416.8,226.10 417.0,225.60 417.2,225.14 417.5,224.72 417.7,224.32 417.9,223.95 418.1,223.61 418.3,223.29 418.5,223.00 418.7,222.73 419.0,222.49 419.2,222.26 419.4,222.06 419.6,221.88 419.8,221.72 420.0,221.58 420.2,221.45 420.5,221.35 420.7,221.26 420.9,221.19 421.1,221.14 421.3,221.10 421.5,221.08 421.7,221.08 421.9,221.10 422.2,221.13 422.4,221.18 422.6,221.24 422.8,221.32 423.0,221.42 423.2,221.54 423.4,221.67 423.7,221.82 423.9,221.98 424.1,222.17 424.3,222.37 424.5,222.59 424.7,222.83 424.9,223.08 425.1,223.36 425.4,223.66 425.6,223.98 425.8,224.32 426.0,224.68 426.2,225.06 426.4,225.47 426.6,225.91 426.9,226.37 427.1,226.86 427.3,227.38 427.5,227.93 427.7,228.51 427.9,229.14 428.1,229.80 428.4,230.50 428.6,231.25 428.8,232.05 429.0,232.91 429.2,233.82 429.4,234.81 429.6,235.88 429.8,237.03 430.1,238.29 430.3,239.67 430.5,241.19 430.7,242.89 430.9,244.81 431.1,247.00 431.3,249.56 431.6,252.64 431.8,256.48 432.0,261.61 432.2,268.48 432.4,268.48 432.6,268.48 432.8,268.48 433.0,263.38 433.3,258.23 433.5,254.41 433.7,251.39 433.9,248.90 434.1,246.78 434.3,244.94 434.5,243.33 434.8,241.89 435.0,240.59 435.2,239.42 435.4,238.35 435.6,237.37 435.8,236.47 436.0,235.64 436.3,234.87 436.5,234.15 436.7,233.49 436.9,232.87 437.1,232.29 437.3,231.75 437.5,231.24 437.7,230.77 438.0,230.33 438.2,229.92 438.4,229.53 438.6,229.18 438.8,228.84 439.0,228.53 439.2,228.24 439.5,227.97 439.7,227.73 439.9,227.50 440.1,227.29 440.3,227.10 440.5,226.92 440.7,226.77 440.9,226.63 441.2,226.50 441.4,226.40 441.6,226.30 441.8,226.23 442.0,226.16 442.2,226.12 442.4,226.08 442.7,226.07 442.9,226.06 443.1,226.07 443.3,226.10 443.5,226.13 443.7,226.19 443.9,226.25 444.1,226.34 444.4,226.43 444.6,226.54 444.8,226.67 445.0,226.80 445.2,226.96 445.4,227.13 445.6,227.31 445.9,227.51 446.1,227.73 446.3,227.96 446.5,228.21 446.7,228.48 446.9,228.76 447.1,229.06 447.4,229.39 447.6,229.73 447.8,230.09 448.0,230.47 448.2,230.88 448.4,231.30 448.6,231.76 448.8,232.24 449.1,232.74 449.3,233.28 449.5,233.84 449.7,234.44 449.9,235.08 450.1,235.75 450.3,236.47 450.6,237.23 450.8,238.05 451.0,238.92 451.2,239.85 451.4,240.85 451.6,241.93 451.8,243.10 452.0,244.38 452.3,245.78 452.5,247.33 452.7,249.07 452.9,251.03 453.1,253.28 453.3,255.92 453.5,259.11 453.8,263.14 454.0,268.48 454.2,268.48 454.4,268.48 454.6,268.48 454.8,268.48 455.0,266.43 455.3,261.60 455.5,257.96 455.7,255.04 455.9,252.62 456.1,250.55 456.3,248.75 456.5,247.17 456.7,245.75 457.0,244.47 457.2,243.31 457.4,242.25 457.6,241.28 457.8,240.39 458.0,239.56 458.2,238.80 458.5,238.09 458.7,237.42 458.9,236.81 459.1,236.23 459.3,235.70 459.5,235.20 459.7,234.73 459.9,234.29 460.2,233.88 460.4,233.50 460.6,233.14 460.8,232.81 461.0,232.51 461.2,232.22 461.4,231.96 461.7,231.72 461.9,231.49 462.1,231.29 462.3,231.11 462.5,230.94 462.7,230.79 462.9,230.66 463.2,230.54 463.4,230.45 463.6,230.36 463.8,230.30 464.0,230.25 464.2,230.21 464.4,230.19 464.6,230.19 464.9,230.20 465.1,230.22 465.3,230.27 465.5,230.32"/>
</g></g>
<g stroke="#111" stroke-width="1"><line x1="38.5" y1="228.5" x2="38.5" y2="224.0"/><line x1="38.5" y1="3.5" x2="38.5" y2="8.0"/><line x1="81.5" y1="228.5" x2="81.5" y2="224.0"/><line x1="81.5" y1="3.5" x2="81.5" y2="8.0"/><line x1="123.5" y1="228.5" x2="123.5" y2="224.0"/><line x1="123.5" y1="3.5" x2="123.5" y2="8.0"/><line x1="166.5" y1="228.5" x2="166.5" y2="224.0"/><line x1="166.5" y1="3.5" x2="166.5" y2="8.0"/><line x1="209.5" y1="228.5" x2="209.5" y2="224.0"/><line x1="209.5" y1="3.5" x2="209.5" y2="8.0"/><line x1="252.5" y1="228.5" x2="252.5" y2="224.0"/><line x1="252.5" y1="3.5" x2="252.5" y2="8.0"/><line x1="294.5" y1="228.5" x2="294.5" y2="224.0"/><line x1="294.5" y1="3.5" x2="294.5" y2="8.0"/><line x1="337.5" y1="228.5" x2="337.5" y2="224.0"/><line x1="337.5" y1="3.5" x2="337.5" y2="8.0"/><line x1="380.5" y1="228.5" x2="380.5" y2="224.0"/><line x1="380.5" y1="3.5" x2="380.5" y2="8.0"/><line x1="422.5" y1="228.5" x2="422.5" y2="224.0"/><line x1="422.5" y1="3.5" x2="422.5" y2="8.0"/><line x1="465.5" y1="228.5" x2="465.5" y2="224.0"/><line x1="465.5" y1="3.5" x2="465.5" y2="8.0"/><line x1="38.5" y1="220.5" x2="43.0" y2="220.5"/><line x1="465.5" y1="220.5" x2="461.0" y2="220.5"/><line x1="38.5" y1="189.5" x2="43.0" y2="189.5"/><line x1="465.5" y1="189.5" x2="461.0" y2="189.5"/><line x1="38.5" y1="158.5" x2="43.0" y2="158.5"/><line x1="465.5" y1="158.5" x2="461.0" y2="158.5"/><line x1="38.5" y1="127.5" x2="43.0" y2="127.5"/><line x1="465.5" y1="127.5" x2="461.0" y2="127.5"/><line x1="38.5" y1="96.5" x2="43.0" y2="96.5"/><line x1="465.5" y1="96.5" x2="461.0" y2="96.5"/><line x1="38.5" y1="65.5" x2="43.0" y2="65.5"/><line x1="465.5" y1="65.5" x2="461.0" y2="65.5"/><line x1="38.5" y1="34.5" x2="43.0" y2="34.5"/><line x1="465.5" y1="34.5" x2="461.0" y2="34.5"/><line x1="38.5" y1="3.5" x2="43.0" y2="3.5"/><line x1="465.5" y1="3.5" x2="461.0" y2="3.5"/></g>
<g font-family="Liberation Sans, Arial, sans-serif" font-size="10.3" fill="#111">
<text transform="translate(38.5,239.1) scale(0.94,1)" font-size="10" text-anchor="middle">0</text>
<text transform="translate(81.2,239.1) scale(0.94,1)" font-size="10" text-anchor="middle">1</text>
<text transform="translate(123.9,239.1) scale(0.94,1)" font-size="10" text-anchor="middle">2</text>
<text transform="translate(166.6,239.1) scale(0.94,1)" font-size="10" text-anchor="middle">3</text>
<text transform="translate(209.3,239.1) scale(0.94,1)" font-size="10" text-anchor="middle">4</text>
<text transform="translate(252.0,239.1) scale(0.94,1)" font-size="10" text-anchor="middle">5</text>
<text transform="translate(294.7,239.1) scale(0.94,1)" font-size="10" text-anchor="middle">6</text>
<text transform="translate(337.4,239.1) scale(0.94,1)" font-size="10" text-anchor="middle">7</text>
<text transform="translate(380.1,239.1) scale(0.94,1)" font-size="10" text-anchor="middle">8</text>
<text transform="translate(422.8,239.1) scale(0.94,1)" font-size="10" text-anchor="middle">9</text>
<text transform="translate(466.5,239.1) scale(0.94,1)" font-size="10" text-anchor="middle">10</text>
<text transform="translate(36.1,223.5) scale(0.91,1)" text-anchor="end">−140</text>
<text transform="translate(36.1,192.5) scale(0.91,1)" text-anchor="end">−120</text>
<text transform="translate(36.1,161.5) scale(0.91,1)" text-anchor="end">−100</text>
<text transform="translate(36.1,130.4) scale(0.91,1)" text-anchor="end">−80</text>
<text transform="translate(36.1,99.4) scale(0.91,1)" text-anchor="end">−60</text>
<text transform="translate(36.1,68.4) scale(0.91,1)" text-anchor="end">−40</text>
<text transform="translate(36.1,37.3) scale(0.91,1)" text-anchor="end">−20</text>
<text transform="translate(36.1,6.3) scale(0.91,1)" text-anchor="end">0</text>
</g>
<g font-family="Liberation Sans, Arial, sans-serif" font-size="11.1" fill="#111">
<text x="251.8" y="251.4" text-anchor="middle">Normalized frequency fT</text>
<text transform="translate(8.4,115.5) rotate(-90)" text-anchor="middle">Normalized power spectral density (dB)</text>
</g>
<rect x="314.5" y="8.5" width="148.0" height="52.0" fill="#fff" stroke="#111" stroke-width="0.8"/>
<g font-family="Liberation Sans, Arial, sans-serif" font-size="9.9" fill="#111">
<line x1="320.5" y1="16.1" x2="348.7" y2="16.1" stroke="#c348a6" stroke-width="2.4"/>
<text transform="translate(351.8,19.4) scale(0.94,1)">Half−sine pulse</text>
<line x1="320.5" y1="28.3" x2="348.7" y2="28.3" stroke="#000000" stroke-width="2.4"/>
<text transform="translate(351.8,32.0) scale(0.94,1)">Rectangular pulse</text>
<line x1="320.5" y1="40.6" x2="348.7" y2="40.6" stroke="#5cb736" stroke-width="2.4"/>
<text transform="translate(351.8,44.6) scale(0.94,1)">Raised cosine pulse</text>
<line x1="320.5" y1="52.2" x2="348.7" y2="52.2" stroke="#ec1818" stroke-width="2.4"/>
<text transform="translate(351.8,57.2) scale(0.94,1)">Proposed optimized pulse</text>
</g>
</svg>
</body></html>
